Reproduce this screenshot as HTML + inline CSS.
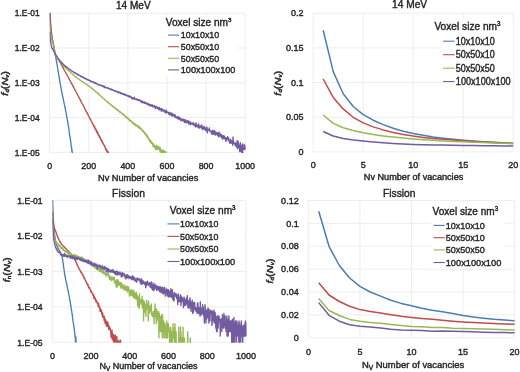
<!DOCTYPE html>
<html><head><meta charset="utf-8"><title>Vacancy distributions</title>
<style>html,body{margin:0;padding:0;background:#fff;}body{width:520px;height:372px;overflow:hidden;position:relative;}</style>
</head><body>
<svg width="520" height="372" viewBox="0 0 520 372" style="position:absolute;left:0;top:0;filter:blur(0.3px);font-family:'Liberation Sans', Arial, sans-serif">
<rect width="520" height="372" fill="#fff"/>
<style>text{stroke:#262626;stroke-width:0.4px;paint-order:stroke;}</style>
<clipPath id="cTL"><rect x="49.6" y="12.7" width="196.6" height="140.2"/></clipPath>
<line x1="49.6" x2="245.2" y1="13.20" y2="13.20" stroke="#EDEDED" stroke-width="1"/>
<line x1="49.6" x2="245.2" y1="48.00" y2="48.00" stroke="#EDEDED" stroke-width="1"/>
<line x1="49.6" x2="245.2" y1="82.80" y2="82.80" stroke="#EDEDED" stroke-width="1"/>
<line x1="49.6" x2="245.2" y1="117.60" y2="117.60" stroke="#EDEDED" stroke-width="1"/>
<line x1="49.6" x2="245.2" y1="152.40" y2="152.40" stroke="#EDEDED" stroke-width="1"/>
<line x1="49.60" x2="49.60" y1="13.2" y2="152.39999999999998" stroke="#EDEDED" stroke-width="1"/>
<line x1="88.72" x2="88.72" y1="13.2" y2="152.39999999999998" stroke="#EDEDED" stroke-width="1"/>
<line x1="127.84" x2="127.84" y1="13.2" y2="152.39999999999998" stroke="#EDEDED" stroke-width="1"/>
<line x1="166.96" x2="166.96" y1="13.2" y2="152.39999999999998" stroke="#EDEDED" stroke-width="1"/>
<line x1="206.08" x2="206.08" y1="13.2" y2="152.39999999999998" stroke="#EDEDED" stroke-width="1"/>
<line x1="245.20" x2="245.20" y1="13.2" y2="152.39999999999998" stroke="#EDEDED" stroke-width="1"/>
<polyline points="49.80,4.71 49.99,10.98 50.19,15.88 50.38,19.60 50.58,22.57 50.77,25.03 50.97,27.29 51.16,29.49 51.36,31.47 51.56,33.25 51.75,34.81 51.95,36.34 52.14,37.71 52.34,38.98 52.53,40.10 52.73,41.17 52.93,42.17 53.12,43.09 53.32,43.89 53.51,44.57 53.71,45.62 53.90,46.66 54.10,47.76 54.29,48.79 54.49,49.90 54.69,50.98 54.88,52.04 55.08,53.11 55.27,54.25 55.47,55.31 55.66,56.43 55.86,57.54 56.05,58.69 56.25,59.81 56.45,61.00 56.64,62.10 56.84,63.34 57.03,64.48 57.23,65.64 57.42,66.93 57.62,68.03 57.82,69.24 58.01,70.52 58.21,71.62 58.40,72.71 58.60,73.93 58.79,75.09 58.99,76.31 59.18,77.49 59.38,78.40 59.58,79.74 59.77,80.82 59.97,82.17 60.16,83.17 60.36,84.38 60.55,85.38 60.75,86.34 60.94,87.52 61.14,88.62 61.34,89.64 61.53,90.70 61.73,92.02 61.92,92.66 62.12,93.45 62.31,94.55 62.51,95.59 62.71,96.37 62.90,97.59 63.10,98.22 63.29,99.33 63.49,100.08 63.68,101.04 63.88,102.23 64.07,103.17 64.27,103.54 64.47,104.93 64.66,105.36 64.86,106.71 65.05,107.52 65.25,108.66 65.44,109.64 65.64,110.97 65.83,111.53 66.03,112.72 66.23,113.43 66.42,114.49 66.62,115.75 66.81,116.94 67.01,118.02 67.20,118.55 67.40,119.91 67.60,121.07 67.79,122.36 67.99,123.40 68.18,125.48 68.38,125.72 68.57,127.03 68.77,127.95 68.96,129.35 69.16,130.51 69.36,134.04 69.55,134.26 69.75,135.76 69.94,137.22 70.14,136.97 70.33,138.84 70.53,140.58 70.72,142.03 70.92,142.75 71.12,145.23 71.31,147.31 71.51,146.96 71.70,148.05 71.90,151.47 72.09,150.55 72.29,152.81 72.49,154.05 72.68,155.22" fill="none" stroke="#4A7CBA" stroke-width="1.35" stroke-linejoin="round" stroke-linecap="butt" clip-path="url(#cTL)"/>
<polyline points="49.80,12.45 49.99,16.84 50.19,20.42 50.38,23.71 50.58,26.38 50.77,28.62 50.97,30.55 51.16,32.38 51.36,34.01 51.56,35.56 51.75,36.85 51.95,38.05 52.14,38.98 52.34,39.84 52.53,40.76 52.73,41.73 52.93,42.62 53.12,43.57 53.32,44.40 53.51,45.10 53.71,46.70 53.90,48.28 54.10,49.75 54.29,51.09 54.49,52.36 54.69,53.32 54.88,54.15 55.08,54.67 55.27,55.08 55.47,55.45 55.66,55.79 55.86,56.08 56.05,56.28 56.25,56.60 56.45,56.70 56.64,56.96 56.84,57.22 57.03,57.37 57.23,57.62 57.42,57.86 57.62,58.16 57.82,58.56 58.01,58.80 58.21,59.09 58.40,59.44 58.60,59.79 58.79,60.17 58.99,60.49 59.18,60.83 59.38,61.21 59.58,61.56 59.77,61.90 59.97,62.28 60.16,62.67 60.36,62.87 60.55,63.35 60.75,63.69 60.94,64.04 61.14,64.33 61.34,64.71 61.53,65.05 61.73,65.44 61.92,65.74 62.12,66.03 62.31,66.50 62.51,66.77 62.71,67.12 62.90,67.51 63.10,67.75 63.29,68.21 63.49,68.52 63.68,68.85 63.88,69.23 64.07,69.62 64.27,69.98 64.47,70.38 64.66,70.68 64.86,70.97 65.05,71.36 65.25,71.68 65.44,72.05 65.64,72.39 65.83,72.78 66.03,73.20 66.23,73.60 66.42,73.91 66.62,74.16 66.81,74.66 67.01,75.07 67.20,75.16 67.40,75.62 67.60,76.04 67.79,76.41 67.99,76.76 68.18,77.16 68.38,77.39 68.57,77.86 68.77,78.31 68.96,78.60 69.16,78.79 69.36,79.38 69.55,79.74 69.75,79.84 69.94,80.45 70.14,80.70 70.33,81.16 70.53,81.47 70.72,81.84 70.92,82.35 71.12,82.63 71.31,83.01 71.51,83.18 71.70,83.70 71.90,84.03 72.09,84.40 72.29,84.91 72.49,85.12 72.68,85.44 72.88,85.99 73.07,86.27 73.27,86.52 73.46,87.00 73.66,87.13 73.85,87.72 74.05,88.01 74.25,88.46 74.44,88.66 74.64,89.19 74.83,89.47 75.03,89.92 75.22,90.19 75.42,90.64 75.61,90.98 75.81,91.46 76.01,91.85 76.20,92.13 76.40,92.52 76.59,92.72 76.79,93.23 76.98,93.57 77.18,93.80 77.38,94.39 77.57,94.51 77.77,95.01 77.96,95.31 78.16,95.81 78.35,96.19 78.55,96.56 78.74,96.81 78.94,97.47 79.14,97.72 79.33,97.96 79.53,98.47 79.72,98.62 79.92,99.42 80.11,99.61 80.31,99.68 80.50,100.22 80.70,100.79 80.90,100.90 81.09,101.58 81.29,101.83 81.48,102.48 81.68,102.54 81.87,102.95 82.07,103.33 82.27,103.64 82.46,103.85 82.66,104.41 82.85,104.62 83.05,104.96 83.24,105.39 83.44,105.78 83.63,106.40 83.83,106.69 84.03,106.92 84.22,107.22 84.42,107.68 84.61,108.71 84.81,108.66 85.00,109.11 85.20,109.36 85.39,109.62 85.59,110.18 85.79,110.24 85.98,111.19 86.18,111.09 86.37,111.56 86.57,111.88 86.76,112.44 86.96,112.44 87.16,113.25 87.35,113.37 87.55,113.31 87.74,114.21 87.94,114.80 88.13,114.69 88.33,115.15 88.52,115.87 88.72,115.88 88.92,116.45 89.11,117.02 89.31,117.23 89.50,117.86 89.70,118.19 89.89,118.62 90.09,118.94 90.28,118.72 90.48,119.90 90.68,119.80 90.87,119.91 91.07,120.56 91.26,120.97 91.46,121.66 91.65,121.91 91.85,121.78 92.05,122.74 92.24,123.00 92.44,123.32 92.63,123.17 92.83,123.99 93.02,124.99 93.22,124.54 93.41,125.31 93.61,125.55 93.81,126.43 94.00,126.76 94.20,126.02 94.39,127.27 94.59,127.39 94.78,126.74 94.98,128.29 95.17,129.18 95.37,128.62 95.57,128.77 95.76,129.80 95.96,129.23 96.15,130.53 96.35,129.86 96.54,131.83 96.74,131.27 96.94,131.77 97.13,131.49 97.33,133.05 97.52,133.39 97.72,131.90 97.91,134.02 98.11,134.87 98.30,133.96 98.50,134.73 98.70,134.96 98.89,135.78 99.09,136.31 99.28,135.58 99.48,136.95 99.67,137.13 99.87,137.73 100.06,138.11 100.26,137.11 100.46,138.08 100.65,138.59 100.85,139.75 101.04,140.26 101.24,140.21 101.43,139.99 101.63,139.68 101.83,141.60 102.02,140.74 102.22,142.28 102.41,141.67 102.61,142.13 102.80,143.16 103.00,143.69 103.19,143.57 103.39,144.17 103.59,144.53 103.78,144.89 103.98,144.65 104.17,145.27 104.37,146.01 104.56,145.71 104.76,145.71 104.95,146.54 105.15,147.90 105.35,148.32 105.54,148.95 105.74,149.86 105.93,149.23 106.13,149.94 106.32,149.19 106.52,149.94 106.72,150.42 106.91,151.52 107.11,150.82 107.30,152.35 107.50,151.14 107.69,151.01 107.89,152.71 108.08,151.71 108.28,153.23 108.48,153.66 108.67,152.86 108.87,155.40" fill="none" stroke="#BF4C49" stroke-width="1.35" stroke-linejoin="round" stroke-linecap="butt" clip-path="url(#cTL)"/>
<polyline points="49.80,22.74 49.99,26.64 50.19,29.17 50.38,30.97 50.58,32.69 50.77,34.10 50.97,35.37 51.16,36.54 51.36,37.60 51.56,38.62 51.75,39.46 51.95,40.23 52.14,41.03 52.34,41.73 52.53,42.32 52.73,42.93 52.93,43.57 53.12,44.06 53.32,44.57 53.51,45.10 53.71,46.22 53.90,47.25 54.10,48.27 54.29,49.24 54.49,50.26 54.69,51.31 54.88,52.13 55.08,52.99 55.27,53.80 55.47,54.50 55.66,55.05 55.86,55.62 56.05,56.13 56.25,56.49 56.45,56.86 56.64,57.33 56.84,57.66 57.03,57.91 57.23,58.31 57.42,58.56 57.62,58.87 57.82,59.09 58.01,59.41 58.21,59.65 58.40,59.85 58.60,60.04 58.79,60.38 58.99,60.54 59.18,60.80 59.38,60.94 59.58,61.24 59.77,61.39 59.97,61.75 60.16,61.96 60.36,62.18 60.55,62.44 60.75,62.67 60.94,62.81 61.14,63.06 61.34,63.29 61.53,63.62 61.73,63.65 61.92,63.97 62.12,64.27 62.31,64.37 62.51,64.72 62.71,64.83 62.90,64.96 63.10,65.33 63.29,65.53 63.49,65.72 63.68,65.86 63.88,66.01 64.07,66.26 64.27,66.59 64.47,66.60 64.66,66.89 64.86,67.04 65.05,67.31 65.25,67.50 65.44,67.61 65.64,67.89 65.83,68.29 66.03,68.25 66.23,68.34 66.42,68.62 66.62,68.91 66.81,68.99 67.01,69.09 67.20,69.28 67.40,69.54 67.60,69.70 67.79,69.98 67.99,70.03 68.18,70.42 68.38,70.43 68.57,70.59 68.77,70.73 68.96,70.95 69.16,71.24 69.36,71.38 69.55,71.50 69.75,71.68 69.94,71.90 70.14,72.11 70.33,72.14 70.53,72.39 70.72,72.45 70.92,72.76 71.12,72.98 71.31,73.16 71.51,73.18 71.70,73.43 71.90,73.73 72.09,73.82 72.29,73.92 72.49,74.14 72.68,74.35 72.88,74.47 73.07,74.71 73.27,74.89 73.46,74.96 73.66,75.19 73.85,75.40 74.05,75.40 74.25,75.62 74.44,75.91 74.64,76.01 74.83,76.15 75.03,76.29 75.22,76.32 75.42,76.60 75.61,76.76 75.81,76.79 76.01,76.78 76.20,77.16 76.40,77.44 76.59,77.33 76.79,77.52 76.98,77.86 77.18,77.86 77.38,78.19 77.57,78.38 77.77,78.40 77.96,78.69 78.16,78.75 78.35,78.92 78.55,78.93 78.74,79.21 78.94,79.37 79.14,79.61 79.33,79.61 79.53,79.62 79.72,79.89 79.92,79.90 80.11,80.22 80.31,80.20 80.50,80.50 80.70,80.52 80.90,80.56 81.09,80.84 81.29,80.91 81.48,81.04 81.68,81.17 81.87,81.44 82.07,81.46 82.27,81.76 82.46,81.79 82.66,82.05 82.85,81.92 83.05,82.20 83.24,82.26 83.44,82.43 83.63,82.57 83.83,82.58 84.03,82.65 84.22,83.03 84.42,83.01 84.61,83.16 84.81,83.21 85.00,83.48 85.20,83.64 85.39,83.60 85.59,83.81 85.79,83.94 85.98,83.94 86.18,84.23 86.37,84.30 86.57,84.19 86.76,84.79 86.96,84.64 87.16,84.86 87.35,85.23 87.55,85.24 87.74,85.46 87.94,85.59 88.13,85.55 88.33,85.66 88.52,85.83 88.72,85.70 88.92,86.20 89.11,86.25 89.31,86.45 89.50,86.59 89.70,86.75 89.89,86.95 90.09,87.02 90.28,87.09 90.48,87.27 90.68,87.23 90.87,87.50 91.07,87.81 91.26,87.87 91.46,87.91 91.65,88.23 91.85,88.61 92.05,88.73 92.24,88.76 92.44,88.88 92.63,89.01 92.83,89.37 93.02,89.03 93.22,89.20 93.41,89.60 93.61,90.03 93.81,90.00 94.00,90.22 94.20,90.37 94.39,90.54 94.59,90.63 94.78,90.81 94.98,91.16 95.17,91.15 95.37,91.20 95.57,91.50 95.76,91.63 95.96,92.02 96.15,91.95 96.35,92.02 96.54,92.18 96.74,92.45 96.94,92.74 97.13,92.74 97.33,92.81 97.52,93.21 97.72,93.27 97.91,93.47 98.11,93.26 98.30,93.90 98.50,93.99 98.70,94.12 98.89,94.04 99.09,94.30 99.28,94.42 99.48,94.94 99.67,94.90 99.87,95.50 100.06,95.50 100.26,95.56 100.46,95.86 100.65,95.93 100.85,96.08 101.04,96.11 101.24,96.49 101.43,96.71 101.63,96.85 101.83,96.97 102.02,96.92 102.22,97.60 102.41,97.63 102.61,97.69 102.80,98.07 103.00,98.08 103.19,98.23 103.39,98.50 103.59,98.58 103.78,98.56 103.98,99.08 104.17,98.94 104.37,99.24 104.56,99.37 104.76,99.77 104.95,99.67 105.15,100.19 105.35,100.30 105.54,100.27 105.74,100.69 105.93,100.61 106.13,101.26 106.32,101.23 106.52,101.20 106.72,101.43 106.91,101.66 107.11,101.84 107.30,101.76 107.50,101.73 107.69,102.08 107.89,102.03 108.08,102.83 108.28,102.84 108.48,103.08 108.67,102.79 108.87,103.02 109.06,103.39 109.26,103.79 109.45,103.91 109.65,103.70 109.84,103.82 110.04,103.96 110.24,104.31 110.43,104.37 110.63,104.99 110.82,105.17 111.02,105.10 111.21,104.88 111.41,104.85 111.61,105.26 111.80,105.56 112.00,105.77 112.19,106.02 112.39,106.14 112.58,106.00 112.78,106.43 112.97,106.29 113.17,106.20 113.37,106.83 113.56,107.08 113.76,106.52 113.95,107.25 114.15,107.74 114.34,107.31 114.54,107.80 114.73,107.60 114.93,108.18 115.13,108.47 115.32,108.01 115.52,108.38 115.71,108.35 115.91,108.18 116.10,109.25 116.30,108.96 116.50,109.27 116.69,109.50 116.89,109.78 117.08,109.84 117.28,109.41 117.47,110.24 117.67,109.96 117.86,110.23 118.06,110.51 118.26,110.29 118.45,110.68 118.65,111.01 118.84,111.16 119.04,111.03 119.23,111.15 119.43,111.82 119.62,111.73 119.82,112.03 120.02,111.60 120.21,112.52 120.41,112.03 120.60,112.38 120.80,112.48 120.99,112.35 121.19,113.16 121.39,113.19 121.58,112.95 121.78,113.27 121.97,113.88 122.17,113.18 122.36,113.86 122.56,113.94 122.75,114.43 122.95,114.23 123.15,114.00 123.34,115.05 123.54,114.78 123.73,114.97 123.93,115.26 124.12,114.76 124.32,115.35 124.51,115.83 124.71,115.78 124.91,115.57 125.10,116.33 125.30,116.51 125.49,116.79 125.69,116.44 125.88,117.48 126.08,116.63 126.28,117.10 126.47,117.41 126.67,117.12 126.86,117.52 127.06,117.95 127.25,117.34 127.45,118.46 127.64,118.24 127.84,118.58 128.04,118.21 128.23,118.92 128.43,119.08 128.62,119.42 128.82,119.17 129.01,119.08 129.21,119.50 129.40,120.55 129.60,119.95 129.80,120.01 129.99,120.00 130.19,120.22 130.38,121.01 130.58,120.99 130.77,120.69 130.97,120.94 131.17,121.27 131.36,120.76 131.56,121.77 131.75,122.14 131.95,121.92 132.14,122.86 132.34,122.13 132.53,123.38 132.73,122.79 132.93,122.49 133.12,122.32 133.32,123.25 133.51,123.51 133.71,123.75 133.90,123.86 134.10,123.47 134.29,124.86 134.49,124.40 134.69,124.52 134.88,124.76 135.08,123.93 135.27,124.58 135.47,125.57 135.66,124.42 135.86,124.81 136.06,124.70 136.25,125.35 136.45,125.06 136.64,125.78 136.84,125.63 137.03,125.82 137.23,125.69 137.42,126.22 137.62,126.43 137.82,125.47 138.01,125.59 138.21,127.51 138.40,127.12 138.60,127.12 138.79,126.95 138.99,127.97 139.18,127.44 139.38,126.97 139.58,127.75 139.77,127.99 139.97,128.27 140.16,127.56 140.36,127.43 140.55,128.63 140.75,128.96 140.95,129.62 141.14,129.48 141.34,128.79 141.53,129.40 141.73,129.75 141.92,129.91 142.12,130.46 142.31,130.57 142.51,131.00 142.71,131.49 142.90,131.19 143.10,130.44 143.29,130.91 143.49,131.79 143.68,131.09 143.88,131.77 144.07,132.01 144.27,132.63 144.47,133.38 144.66,132.38 144.86,133.29 145.05,134.17 145.25,133.77 145.44,133.23 145.64,134.45 145.84,134.13 146.03,134.36 146.23,135.72 146.42,135.60 146.62,134.63 146.81,134.75 147.01,137.08 147.20,135.75 147.40,135.90 147.60,136.26 147.79,137.61 147.99,137.03 148.18,137.50 148.38,139.30 148.57,137.56 148.77,137.84 148.96,138.89 149.16,139.42 149.36,140.11 149.55,140.18 149.75,141.59 149.94,139.84 150.14,141.81 150.33,141.85 150.53,140.14 150.73,141.01 150.92,141.01 151.12,142.54 151.31,143.43 151.51,141.85 151.70,143.06 151.90,142.04 152.09,143.02 152.29,143.23 152.49,142.94 152.68,144.51 152.88,145.30 153.07,145.53 153.27,146.58 153.46,143.99 153.66,145.44 153.85,144.83 154.05,145.11 154.25,145.20 154.44,147.37 154.64,145.63 154.83,146.84 155.03,146.27 155.22,148.43 155.42,147.10 155.62,149.64 155.81,149.46 156.01,146.42 156.20,145.78 156.40,147.75 156.59,145.30 156.79,147.26 156.98,148.03 157.18,149.27 157.38,148.73 157.57,146.32 157.77,148.61 157.96,147.98 158.16,149.15 158.35,148.79 158.55,148.91 158.74,147.48 158.94,146.63 159.14,149.64 159.33,149.71 159.53,150.29 159.72,149.96 159.92,149.64 160.11,152.03 160.31,147.64 160.51,151.81 160.70,150.62 160.90,149.83 161.09,151.31 161.29,150.49 161.48,152.48 161.68,150.42 161.87,151.31 162.07,151.81 162.27,153.10 162.46,150.75 162.66,150.89 162.85,150.03 163.05,151.73 163.24,153.02 163.44,152.25 163.63,150.16 163.83,151.95 164.03,152.03 164.22,153.58 164.42,151.73 164.61,151.24 164.81,153.42 165.00,153.66 165.20,153.34 165.40,154.16 165.59,152.63 165.79,154.08 165.98,151.66 166.18,153.42 166.37,154.25 166.57,154.77 166.76,155.40 166.96,154.77 167.16,154.33" fill="none" stroke="#97B955" stroke-width="1.35" stroke-linejoin="round" stroke-linecap="butt" clip-path="url(#cTL)"/>
<polyline points="49.80,31.69 49.99,35.46 50.19,37.93 50.38,39.84 50.58,41.31 50.77,42.62 50.97,43.89 51.16,44.92 51.36,45.84 51.56,46.82 51.75,47.43 51.95,47.86 52.14,48.30 52.34,48.75 52.53,48.98 52.73,49.45 52.93,49.69 53.12,49.94 53.32,50.19 53.51,50.44 53.71,51.01 53.90,51.37 54.10,51.51 54.29,51.90 54.49,52.37 54.69,52.79 54.88,53.07 55.08,53.34 55.27,53.73 55.47,54.08 55.66,54.45 55.86,54.76 56.05,55.06 56.25,55.50 56.45,55.72 56.64,55.99 56.84,56.41 57.03,56.63 57.23,57.06 57.42,57.07 57.62,57.69 57.82,57.73 58.01,58.06 58.21,58.32 58.40,58.79 58.60,59.16 58.79,59.34 58.99,59.59 59.18,60.00 59.38,60.08 59.58,60.29 59.77,60.54 59.97,60.71 60.16,60.81 60.36,61.32 60.55,61.35 60.75,61.56 60.94,61.87 61.14,62.05 61.34,62.17 61.53,62.55 61.73,62.79 61.92,62.65 62.12,62.98 62.31,63.28 62.51,63.42 62.71,63.68 62.90,63.82 63.10,64.03 63.29,64.27 63.49,64.44 63.68,64.82 63.88,65.02 64.07,65.15 64.27,65.24 64.47,65.48 64.66,65.47 64.86,65.77 65.05,65.82 65.25,66.10 65.44,66.30 65.64,66.17 65.83,66.57 66.03,66.99 66.23,66.94 66.42,66.83 66.62,67.02 66.81,67.28 67.01,67.50 67.20,67.53 67.40,67.90 67.60,67.88 67.79,67.94 67.99,67.91 68.18,68.55 68.38,68.56 68.57,68.64 68.77,68.93 68.96,69.00 69.16,69.20 69.36,69.36 69.55,69.46 69.75,69.61 69.94,69.66 70.14,69.89 70.33,69.73 70.53,70.10 70.72,70.40 70.92,70.74 71.12,70.59 71.31,70.49 71.51,70.86 71.70,70.84 71.90,70.90 72.09,71.11 72.29,71.18 72.49,71.35 72.68,71.42 72.88,71.39 73.07,71.72 73.27,71.81 73.46,71.81 73.66,72.27 73.85,72.45 74.05,72.41 74.25,72.76 74.44,72.46 74.64,72.65 74.83,72.78 75.03,73.09 75.22,72.63 75.42,73.05 75.61,73.35 75.81,73.20 76.01,73.41 76.20,73.80 76.40,73.78 76.59,73.82 76.79,73.86 76.98,74.39 77.18,73.83 77.38,74.44 77.57,74.38 77.77,74.47 77.96,74.78 78.16,74.27 78.35,74.88 78.55,75.08 78.74,75.22 78.94,75.26 79.14,75.38 79.33,75.47 79.53,75.33 79.72,75.61 79.92,75.72 80.11,75.85 80.31,76.08 80.50,76.06 80.70,76.35 80.90,76.68 81.09,76.06 81.29,76.58 81.48,76.29 81.68,76.20 81.87,76.68 82.07,76.79 82.27,76.96 82.46,76.95 82.66,76.61 82.85,77.47 83.05,77.33 83.24,77.37 83.44,77.32 83.63,77.56 83.83,77.59 84.03,78.13 84.22,77.90 84.42,77.62 84.61,78.37 84.81,78.48 85.00,78.54 85.20,78.51 85.39,78.49 85.59,78.64 85.79,79.01 85.98,78.63 86.18,79.13 86.37,78.87 86.57,79.26 86.76,79.45 86.96,79.17 87.16,79.39 87.35,79.56 87.55,79.91 87.74,79.81 87.94,79.99 88.13,79.79 88.33,80.18 88.52,80.24 88.72,80.29 88.92,79.93 89.11,79.88 89.31,80.39 89.50,80.45 89.70,80.61 89.89,80.78 90.09,80.49 90.28,80.87 90.48,81.62 90.68,81.50 90.87,80.95 91.07,81.08 91.26,81.65 91.46,81.68 91.65,81.45 91.85,81.48 92.05,81.89 92.24,81.81 92.44,81.90 92.63,82.07 92.83,82.24 93.02,82.05 93.22,81.76 93.41,82.57 93.61,82.23 93.81,82.43 94.00,82.72 94.20,82.78 94.39,83.11 94.59,82.44 94.78,83.00 94.98,82.50 95.17,83.43 95.37,83.21 95.57,83.42 95.76,83.27 95.96,83.39 96.15,83.47 96.35,83.24 96.54,83.41 96.74,83.89 96.94,83.86 97.13,83.96 97.33,84.25 97.52,84.56 97.72,84.28 97.91,84.45 98.11,84.40 98.30,84.60 98.50,84.42 98.70,84.43 98.89,85.10 99.09,84.77 99.28,84.84 99.48,84.76 99.67,85.14 99.87,84.92 100.06,84.69 100.26,85.19 100.46,85.46 100.65,85.32 100.85,85.27 101.04,85.37 101.24,85.50 101.43,85.62 101.63,85.58 101.83,85.82 102.02,86.22 102.22,85.71 102.41,85.55 102.61,86.36 102.80,85.89 103.00,85.98 103.19,86.35 103.39,86.71 103.59,86.80 103.78,86.13 103.98,87.13 104.17,86.69 104.37,86.41 104.56,87.59 104.76,86.81 104.95,87.29 105.15,87.57 105.35,87.13 105.54,87.12 105.74,87.39 105.93,87.59 106.13,87.69 106.32,87.53 106.52,87.62 106.72,87.39 106.91,87.75 107.11,88.07 107.30,87.83 107.50,87.98 107.69,88.20 107.89,88.12 108.08,88.14 108.28,87.85 108.48,88.39 108.67,88.55 108.87,88.46 109.06,88.56 109.26,88.90 109.45,88.75 109.65,88.95 109.84,88.80 110.04,88.73 110.24,88.88 110.43,89.15 110.63,88.87 110.82,89.92 111.02,89.92 111.21,89.13 111.41,89.15 111.61,89.81 111.80,89.81 112.00,89.94 112.19,89.87 112.39,89.60 112.58,90.10 112.78,89.35 112.97,90.28 113.17,90.27 113.37,90.52 113.56,90.51 113.76,90.48 113.95,90.51 114.15,90.68 114.34,90.92 114.54,90.63 114.73,90.81 114.93,91.23 115.13,90.66 115.32,91.12 115.52,91.01 115.71,91.36 115.91,90.97 116.10,91.24 116.30,91.32 116.50,91.77 116.69,91.58 116.89,91.41 117.08,91.62 117.28,91.62 117.47,91.77 117.67,92.42 117.86,91.86 118.06,91.97 118.26,92.42 118.45,92.93 118.65,91.69 118.84,92.19 119.04,92.40 119.23,92.65 119.43,92.45 119.62,92.77 119.82,92.87 120.02,92.97 120.21,92.52 120.41,92.73 120.60,93.35 120.80,93.67 120.99,93.14 121.19,93.67 121.39,93.01 121.58,93.47 121.78,93.50 121.97,93.51 122.17,93.40 122.36,93.64 122.56,94.27 122.75,94.25 122.95,93.55 123.15,93.92 123.34,94.05 123.54,93.90 123.73,94.32 123.93,94.79 124.12,94.22 124.32,93.90 124.51,94.41 124.71,94.59 124.91,95.00 125.10,94.59 125.30,94.87 125.49,95.30 125.69,94.49 125.88,95.09 126.08,94.98 126.28,94.94 126.47,95.24 126.67,95.35 126.86,95.63 127.06,95.79 127.25,96.05 127.45,95.32 127.64,95.61 127.84,95.78 128.04,96.20 128.23,95.88 128.43,96.26 128.62,96.15 128.82,96.86 129.01,96.20 129.21,96.93 129.40,96.27 129.60,95.74 129.80,97.17 129.99,96.63 130.19,97.16 130.38,97.11 130.58,97.18 130.77,96.80 130.97,96.73 131.17,97.49 131.36,97.16 131.56,97.26 131.75,97.79 131.95,98.75 132.14,97.86 132.34,97.84 132.53,98.28 132.73,98.93 132.93,97.80 133.12,97.90 133.32,98.52 133.51,97.90 133.71,98.88 133.90,98.37 134.10,98.35 134.29,97.25 134.49,98.82 134.69,99.00 134.88,98.88 135.08,99.02 135.27,99.34 135.47,99.33 135.66,99.28 135.86,99.09 136.06,98.69 136.25,99.37 136.45,99.81 136.64,99.44 136.84,99.65 137.03,99.35 137.23,99.86 137.42,99.27 137.62,99.96 137.82,99.89 138.01,99.34 138.21,99.75 138.40,99.76 138.60,99.77 138.79,100.62 138.99,99.91 139.18,99.68 139.38,99.73 139.58,99.73 139.77,99.81 139.97,100.70 140.16,100.62 140.36,101.20 140.55,100.78 140.75,101.40 140.95,101.60 141.14,101.02 141.34,101.65 141.53,102.57 141.73,101.02 141.92,101.59 142.12,102.04 142.31,101.26 142.51,102.00 142.71,102.66 142.90,101.86 143.10,102.27 143.29,102.86 143.49,102.03 143.68,102.00 143.88,102.11 144.07,102.30 144.27,102.99 144.47,103.20 144.66,101.85 144.86,102.64 145.05,102.80 145.25,102.79 145.44,102.73 145.64,102.99 145.84,102.74 146.03,103.44 146.23,103.06 146.42,102.91 146.62,103.28 146.81,103.12 147.01,104.37 147.20,104.15 147.40,104.45 147.60,103.81 147.79,103.50 147.99,104.29 148.18,104.51 148.38,104.74 148.57,104.53 148.77,103.96 148.96,104.04 149.16,104.59 149.36,105.74 149.55,104.62 149.75,104.50 149.94,104.75 150.14,105.60 150.33,105.45 150.53,104.64 150.73,105.09 150.92,105.04 151.12,105.62 151.31,105.34 151.51,105.89 151.70,106.35 151.90,105.53 152.09,104.61 152.29,106.21 152.49,105.45 152.68,106.48 152.88,106.77 153.07,106.79 153.27,106.42 153.46,105.86 153.66,105.77 153.85,106.21 154.05,106.48 154.25,106.42 154.44,105.75 154.64,106.94 154.83,107.39 155.03,106.75 155.22,106.55 155.42,108.59 155.62,107.11 155.81,107.49 156.01,106.92 156.20,107.39 156.40,107.62 156.59,107.78 156.79,106.31 156.98,107.78 157.18,107.90 157.38,108.40 157.57,108.08 157.77,107.70 157.96,108.34 158.16,108.76 158.35,109.32 158.55,107.66 158.74,109.32 158.94,108.16 159.14,109.10 159.33,107.45 159.53,109.87 159.72,109.69 159.92,109.36 160.11,108.76 160.31,109.43 160.51,109.65 160.70,109.74 160.90,108.38 161.09,108.82 161.29,111.27 161.48,109.36 161.68,110.19 161.87,108.78 162.07,109.62 162.27,110.47 162.46,109.43 162.66,110.24 162.85,109.76 163.05,109.99 163.24,110.88 163.44,110.05 163.63,110.33 163.83,110.08 164.03,111.27 164.22,111.93 164.42,111.27 164.61,110.78 164.81,110.54 165.00,111.50 165.20,111.20 165.40,112.84 165.59,112.25 165.79,111.32 165.98,110.54 166.18,112.17 166.37,110.24 166.57,111.83 166.76,112.90 166.96,111.85 167.16,112.22 167.35,112.43 167.55,112.38 167.74,111.96 167.94,112.04 168.13,112.57 168.33,112.68 168.52,113.78 168.72,113.43 168.92,113.63 169.11,112.41 169.31,114.72 169.50,112.33 169.70,113.18 169.89,113.26 170.09,112.62 170.29,114.20 170.48,113.38 170.68,114.66 170.87,113.58 171.07,114.69 171.26,114.72 171.46,115.79 171.65,114.38 171.85,112.84 172.05,115.10 172.24,113.81 172.44,115.92 172.63,116.23 172.83,114.59 173.02,115.23 173.22,115.10 173.41,114.75 173.61,115.13 173.81,114.11 174.00,115.07 174.20,114.84 174.39,116.02 174.59,117.26 174.78,115.26 174.98,116.06 175.18,114.81 175.37,115.99 175.57,117.08 175.76,116.33 175.96,116.47 176.15,116.93 176.35,118.06 176.54,117.12 176.74,117.26 176.94,117.87 177.13,117.75 177.33,117.19 177.52,116.68 177.72,118.22 177.91,117.68 178.11,117.23 178.30,116.86 178.50,119.70 178.70,118.06 178.89,117.41 179.09,117.15 179.28,118.70 179.48,118.38 179.67,118.38 179.87,118.94 180.07,118.02 180.26,118.34 180.46,118.30 180.65,119.88 180.85,119.84 181.04,120.83 181.24,120.46 181.43,119.07 181.63,119.28 181.83,118.98 182.02,119.62 182.22,120.46 182.41,120.55 182.61,119.79 182.80,120.24 183.00,120.06 183.19,119.11 183.39,120.24 183.59,119.53 183.78,121.11 183.98,120.51 184.17,119.79 184.37,122.36 184.56,120.15 184.76,119.88 184.96,120.24 185.15,122.20 185.35,119.75 185.54,121.26 185.74,121.65 185.93,121.07 186.13,120.97 186.32,122.94 186.52,121.40 186.72,120.83 186.91,121.95 187.11,122.00 187.30,121.11 187.50,120.93 187.69,122.30 187.89,121.55 188.08,120.51 188.28,121.26 188.48,123.99 188.67,123.43 188.87,121.95 189.06,122.94 189.26,123.10 189.45,122.15 189.65,123.37 189.85,121.55 190.04,123.21 190.24,124.70 190.43,122.20 190.63,124.11 190.82,123.71 191.02,124.46 191.21,122.94 191.41,123.21 191.61,123.60 191.80,123.37 192.00,123.43 192.19,123.60 192.39,123.48 192.58,123.94 192.78,123.82 192.97,124.70 193.17,122.46 193.37,124.89 193.56,124.11 193.76,124.29 193.95,123.99 194.15,123.82 194.34,125.26 194.54,124.82 194.74,124.64 194.93,125.83 195.13,124.64 195.32,125.07 195.52,123.99 195.71,127.05 195.91,125.19 196.10,122.94 196.30,126.57 196.50,126.50 196.69,125.57 196.89,125.01 197.08,125.07 197.28,125.38 197.47,125.51 197.67,126.10 197.86,127.12 198.06,126.43 198.26,126.43 198.45,126.77 198.65,123.94 198.84,125.45 199.04,128.08 199.23,126.10 199.43,127.05 199.63,127.05 199.82,127.78 200.02,126.64 200.21,126.16 200.41,126.16 200.60,126.30 200.80,125.77 200.99,125.96 201.19,126.84 201.39,128.00 201.58,125.96 201.78,124.89 201.97,127.20 202.17,127.93 202.36,128.77 202.56,127.20 202.75,128.54 202.95,129.75 203.15,128.61 203.34,127.27 203.54,126.77 203.73,128.23 203.93,129.09 204.12,127.27 204.32,126.43 204.52,129.01 204.71,127.34 204.91,127.78 205.10,128.93 205.30,129.09 205.49,128.08 205.69,130.53 205.88,130.36 206.08,130.36 206.28,128.15 206.47,128.38 206.67,130.62 206.86,126.91 207.06,128.30 207.25,132.83 207.45,130.62 207.64,130.27 207.84,130.71 208.04,129.42 208.23,129.67 208.43,130.01 208.62,130.09 208.82,130.36 209.01,130.09 209.21,129.42 209.41,127.85 209.60,129.67 209.80,131.08 209.99,131.45 210.19,131.26 210.38,130.98 210.58,131.26 210.77,131.64 210.97,132.03 211.17,132.73 211.36,131.45 211.56,132.83 211.75,130.89 211.95,134.24 212.14,130.62 212.34,130.27 212.53,131.54 212.73,132.63 212.93,134.24 213.12,132.94 213.32,131.26 213.51,134.13 213.71,130.98 213.90,132.94 214.10,132.42 214.30,132.52 214.49,130.53 214.69,134.24 214.88,133.15 215.08,133.68 215.27,133.79 215.47,131.93 215.66,135.18 215.86,133.36 216.06,133.90 216.25,134.13 216.45,133.04 216.64,132.32 216.84,132.63 217.03,133.04 217.23,132.73 217.42,133.04 217.62,135.55 217.82,134.47 218.01,134.24 218.21,133.79 218.40,133.04 218.60,136.84 218.79,136.18 218.99,132.22 219.19,135.80 219.38,134.24 219.58,136.05 219.77,133.25 219.97,134.02 220.16,134.13 220.36,135.92 220.55,135.80 220.75,136.70 220.95,136.31 221.14,134.70 221.34,134.47 221.53,136.70 221.73,137.81 221.92,136.18 222.12,135.55 222.31,137.67 222.51,136.57 222.71,139.17 222.90,136.44 223.10,138.25 223.29,138.55 223.49,135.67 223.68,135.80 223.88,137.96 224.08,136.97 224.27,137.39 224.47,136.18 224.66,138.70 224.86,137.11 225.05,138.55 225.25,139.17 225.44,138.40 225.64,138.10 225.84,140.48 226.03,141.55 226.23,137.67 226.42,139.81 226.62,137.96 226.81,138.25 227.01,139.81 227.20,139.17 227.40,139.17 227.60,136.70 227.79,137.67 227.99,138.25 228.18,137.25 228.38,138.86 228.57,139.65 228.77,140.66 228.97,140.31 229.16,141.01 229.36,141.74 229.55,143.10 229.75,142.31 229.94,141.55 230.14,139.01 230.33,139.17 230.53,141.55 230.73,143.10 230.92,140.31 231.12,142.70 231.31,141.01 231.51,143.10 231.70,141.92 231.90,140.66 232.09,141.74 232.29,142.50 232.49,142.31 232.68,145.30 232.88,141.37 233.07,136.97 233.27,143.52 233.46,141.74 233.66,141.55 233.86,143.31 234.05,142.70 234.25,143.10 234.44,143.73 234.64,143.94 234.83,143.94 235.03,143.73 235.22,145.30 235.42,142.90 235.62,144.38 235.81,146.02 236.01,143.31 236.20,146.27 236.40,144.38 236.59,143.94 236.79,147.31 236.98,143.31 237.18,140.31 237.38,143.10 237.57,143.52 237.77,148.73 237.96,144.16 238.16,141.55 238.35,143.52 238.55,146.53 238.75,146.27 238.94,147.31 239.14,145.06 239.33,146.78 239.53,147.31 239.72,151.66 239.92,150.62 240.11,145.78 240.31,142.50 240.51,146.27 240.70,146.53 240.90,151.31 241.09,150.29 241.29,149.03 241.48,146.02 241.68,152.40 241.87,150.29 242.07,149.96 242.27,143.94 242.46,149.33 242.66,152.78 242.85,147.05 243.05,148.15 243.24,149.64 243.44,148.15 243.64,148.15 243.83,147.05 244.03,144.16 244.22,145.06 244.42,147.31 244.61,149.33 244.81,145.53 245.00,148.43 245.20,149.64" fill="none" stroke="#725B9E" stroke-width="1.35" stroke-linejoin="round" stroke-linecap="butt" clip-path="url(#cTL)"/>
<clipPath id="cTR"><rect x="313.2" y="12.7" width="201.00000000000006" height="139.70000000000002"/></clipPath>
<line x1="313.2" x2="513.2" y1="13.20" y2="13.20" stroke="#EDEDED" stroke-width="1"/>
<line x1="313.2" x2="513.2" y1="47.88" y2="47.88" stroke="#EDEDED" stroke-width="1"/>
<line x1="313.2" x2="513.2" y1="82.55" y2="82.55" stroke="#EDEDED" stroke-width="1"/>
<line x1="313.2" x2="513.2" y1="117.23" y2="117.23" stroke="#EDEDED" stroke-width="1"/>
<line x1="313.2" x2="513.2" y1="151.90" y2="151.90" stroke="#EDEDED" stroke-width="1"/>
<line x1="313.20" x2="313.20" y1="13.2" y2="151.9" stroke="#EDEDED" stroke-width="1"/>
<line x1="363.20" x2="363.20" y1="13.2" y2="151.9" stroke="#EDEDED" stroke-width="1"/>
<line x1="413.20" x2="413.20" y1="13.2" y2="151.9" stroke="#EDEDED" stroke-width="1"/>
<line x1="463.20" x2="463.20" y1="13.2" y2="151.9" stroke="#EDEDED" stroke-width="1"/>
<line x1="513.20" x2="513.20" y1="13.2" y2="151.9" stroke="#EDEDED" stroke-width="1"/>
<polyline points="323.20,30.30 333.20,71.60 343.20,93.80 353.20,106.50 363.20,114.60 373.20,120.20 383.20,124.60 393.20,128.30 403.20,131.20 413.20,133.50 423.20,135.30 433.20,136.90 443.20,138.20 453.20,139.30 463.20,140.20 473.20,141.00 483.20,141.70 493.20,142.30 503.20,142.80 513.20,143.20" fill="none" stroke="#4A7CBA" stroke-width="1.5" stroke-linejoin="round" stroke-linecap="butt" clip-path="url(#cTR)"/>
<polyline points="323.20,79.00 333.20,97.40 343.20,108.90 353.20,117.30 363.20,122.90 373.20,126.90 383.20,129.90 393.20,132.40 403.20,134.40 413.20,136.10 423.20,137.40 433.20,138.50 443.20,139.30 453.20,140.00 463.20,140.70 473.20,141.40 483.20,142.00 493.20,142.60 503.20,143.10 513.20,143.50" fill="none" stroke="#BF4C49" stroke-width="1.5" stroke-linejoin="round" stroke-linecap="butt" clip-path="url(#cTR)"/>
<polyline points="323.20,115.00 333.20,123.40 343.20,127.80 353.20,130.50 363.20,132.80 373.20,134.50 383.20,135.90 393.20,137.10 403.20,138.10 413.20,139.00 423.20,139.70 433.20,140.30 443.20,140.90 453.20,141.40 463.20,141.80 473.20,142.20 483.20,142.60 493.20,142.90 503.20,143.20 513.20,143.50" fill="none" stroke="#97B955" stroke-width="1.5" stroke-linejoin="round" stroke-linecap="butt" clip-path="url(#cTR)"/>
<polyline points="323.20,131.50 333.20,136.00 343.20,138.40 353.20,140.00 363.20,141.10 373.20,142.00 383.20,142.80 393.20,143.40 403.20,143.90 413.20,144.40 423.20,144.70 433.20,144.90 443.20,145.10 453.20,145.30 463.20,145.40 473.20,145.60 483.20,145.70 493.20,145.80 503.20,145.90 513.20,146.00" fill="none" stroke="#725B9E" stroke-width="1.5" stroke-linejoin="round" stroke-linecap="butt" clip-path="url(#cTR)"/>
<clipPath id="cBL"><rect x="52.4" y="199.9" width="194.6" height="142.9"/></clipPath>
<line x1="52.4" x2="246.0" y1="200.40" y2="200.40" stroke="#EDEDED" stroke-width="1"/>
<line x1="52.4" x2="246.0" y1="235.88" y2="235.88" stroke="#EDEDED" stroke-width="1"/>
<line x1="52.4" x2="246.0" y1="271.35" y2="271.35" stroke="#EDEDED" stroke-width="1"/>
<line x1="52.4" x2="246.0" y1="306.83" y2="306.83" stroke="#EDEDED" stroke-width="1"/>
<line x1="52.4" x2="246.0" y1="342.30" y2="342.30" stroke="#EDEDED" stroke-width="1"/>
<line x1="52.40" x2="52.40" y1="200.4" y2="342.3" stroke="#EDEDED" stroke-width="1"/>
<line x1="91.12" x2="91.12" y1="200.4" y2="342.3" stroke="#EDEDED" stroke-width="1"/>
<line x1="129.84" x2="129.84" y1="200.4" y2="342.3" stroke="#EDEDED" stroke-width="1"/>
<line x1="168.56" x2="168.56" y1="200.4" y2="342.3" stroke="#EDEDED" stroke-width="1"/>
<line x1="207.28" x2="207.28" y1="200.4" y2="342.3" stroke="#EDEDED" stroke-width="1"/>
<line x1="246.00" x2="246.00" y1="200.4" y2="342.3" stroke="#EDEDED" stroke-width="1"/>
<polyline points="52.59,198.76 52.79,205.73 52.98,211.51 53.17,216.02 53.37,219.78 53.56,222.96 53.76,225.76 53.95,228.24 54.14,230.41 54.34,232.33 54.53,234.11 54.72,235.74 54.92,237.20 55.11,238.48 55.30,239.57 55.50,240.56 55.69,241.48 55.88,242.31 56.08,243.07 56.27,243.65 56.47,244.27 56.66,244.99 56.85,245.45 57.05,245.98 57.24,246.38 57.43,246.96 57.63,247.47 57.82,247.66 58.01,248.22 58.21,248.47 58.40,248.76 58.60,249.11 58.79,249.51 58.98,249.96 59.18,250.09 59.37,250.43 59.56,250.75 59.76,250.95 59.95,251.42 60.14,251.81 60.34,252.11 60.53,252.47 60.72,252.81 60.92,253.17 61.11,253.56 61.31,253.86 61.50,254.38 61.69,255.15 61.89,255.83 62.08,256.66 62.27,257.69 62.47,258.76 62.66,259.91 62.85,261.41 63.05,262.65 63.24,263.74 63.44,265.27 63.63,266.92 63.82,268.03 64.02,269.38 64.21,270.92 64.40,272.08 64.60,273.52 64.79,275.01 64.98,275.88 65.18,276.93 65.37,278.05 65.56,278.69 65.76,279.82 65.95,280.74 66.15,281.53 66.34,282.32 66.53,283.10 66.73,284.08 66.92,285.36 67.11,286.14 67.31,286.98 67.50,288.44 67.69,288.95 67.89,289.92 68.08,291.13 68.28,291.31 68.47,292.38 68.66,293.84 68.86,294.85 69.05,294.98 69.24,296.51 69.44,297.67 69.63,298.55 69.82,300.15 70.02,301.25 70.21,301.07 70.40,302.85 70.60,305.34 70.79,305.15 70.99,306.19 71.18,308.85 71.37,309.49 71.57,310.11 71.76,311.78 71.95,312.90 72.15,313.77 72.34,315.76 72.53,317.41 72.73,318.07 72.92,320.64 73.12,321.17 73.31,322.69 73.50,323.67 73.70,325.37 73.89,326.71 74.08,328.12 74.28,328.56 74.47,331.62 74.66,332.09 74.86,334.03 75.05,336.68 75.24,336.47 75.44,341.40 75.63,339.49 75.83,336.58 76.02,341.40 76.21,345.30 76.41,344.45 76.60,343.42 76.79,345.30 76.99,345.30 77.18,345.30 77.37,345.30 77.57,345.30 77.76,345.30 77.96,345.30 78.15,345.30 78.34,345.30 78.54,345.30 78.73,345.30 78.92,345.30 79.12,345.30 79.31,345.30 79.50,345.30 79.70,345.30" fill="none" stroke="#4A7CBA" stroke-width="1.35" stroke-linejoin="round" stroke-linecap="butt" clip-path="url(#cBL)"/>
<polyline points="52.59,211.59 52.79,214.88 52.98,217.75 53.17,220.24 53.37,222.49 53.56,224.24 53.76,225.44 53.95,226.43 54.14,227.27 54.34,227.97 54.53,228.59 54.72,229.11 54.92,229.55 55.11,229.95 55.30,230.34 55.50,230.75 55.69,231.23 55.88,231.75 56.08,232.29 56.27,232.85 56.47,233.50 56.66,234.00 56.85,234.67 57.05,235.10 57.24,235.53 57.43,236.30 57.63,236.67 57.82,237.22 58.01,237.61 58.21,238.02 58.40,238.64 58.60,239.04 58.79,239.44 58.98,239.82 59.18,240.26 59.37,240.59 59.56,241.12 59.76,241.47 59.95,241.77 60.14,242.01 60.34,242.03 60.53,242.35 60.72,243.01 60.92,243.00 61.11,243.51 61.31,243.59 61.50,243.96 61.69,244.18 61.89,244.59 62.08,244.67 62.27,245.15 62.47,245.35 62.66,245.50 62.85,245.52 63.05,245.88 63.24,246.22 63.44,246.21 63.63,246.54 63.82,246.65 64.02,247.05 64.21,247.02 64.40,247.04 64.60,247.64 64.79,247.76 64.98,247.89 65.18,248.05 65.37,248.25 65.56,248.30 65.76,248.44 65.95,248.57 66.15,248.89 66.34,249.00 66.53,249.30 66.73,249.40 66.92,249.60 67.11,250.01 67.31,250.25 67.50,250.17 67.69,250.36 67.89,250.83 68.08,251.02 68.28,251.23 68.47,251.12 68.66,251.46 68.86,251.83 69.05,251.56 69.24,252.01 69.44,252.35 69.63,252.39 69.82,252.81 70.02,252.77 70.21,252.84 70.40,253.22 70.60,253.47 70.79,253.77 70.99,254.22 71.18,254.16 71.37,254.60 71.57,254.31 71.76,254.81 71.95,255.16 72.15,255.26 72.34,255.62 72.53,255.58 72.73,256.10 72.92,256.56 73.12,256.97 73.31,256.58 73.50,257.21 73.70,257.61 73.89,257.79 74.08,258.01 74.28,258.35 74.47,258.57 74.66,259.27 74.86,259.76 75.05,259.93 75.24,260.26 75.44,260.33 75.63,260.86 75.83,261.60 76.02,261.95 76.21,262.29 76.41,263.04 76.60,263.11 76.79,263.73 76.99,264.71 77.18,264.37 77.37,264.82 77.57,265.54 77.76,265.99 77.96,266.51 78.15,266.73 78.34,267.08 78.54,267.99 78.73,267.86 78.92,268.14 79.12,268.72 79.31,268.93 79.50,269.80 79.70,269.64 79.89,269.83 80.08,270.10 80.28,270.90 80.47,270.99 80.67,272.15 80.86,271.67 81.05,272.29 81.25,272.36 81.44,272.90 81.63,272.43 81.83,273.80 82.02,273.75 82.21,274.39 82.41,274.34 82.60,274.86 82.80,274.87 82.99,274.71 83.18,276.15 83.38,275.35 83.57,276.74 83.76,277.53 83.96,277.11 84.15,278.58 84.34,277.99 84.54,278.51 84.73,278.68 84.92,278.86 85.12,279.52 85.31,279.98 85.51,280.28 85.70,281.16 85.89,281.07 86.09,281.28 86.28,282.26 86.47,282.17 86.67,283.23 86.86,283.45 87.05,283.53 87.25,284.28 87.44,283.62 87.64,285.05 87.83,284.10 88.02,284.41 88.22,286.38 88.41,287.03 88.60,287.55 88.80,287.66 88.99,287.05 89.18,288.27 89.38,288.04 89.57,287.59 89.76,288.20 89.96,288.98 90.15,289.54 90.35,289.52 90.54,290.21 90.73,291.69 90.93,291.99 91.12,290.80 91.31,292.02 91.51,292.65 91.70,291.41 91.89,292.68 92.09,293.30 92.28,293.27 92.48,293.53 92.67,293.40 92.86,294.89 93.06,295.43 93.25,295.77 93.44,295.07 93.64,294.64 93.83,298.42 94.02,295.80 94.22,296.65 94.41,297.60 94.60,298.20 94.80,298.65 94.99,297.77 95.19,299.92 95.38,299.02 95.57,300.22 95.77,300.53 95.96,301.92 96.15,300.94 96.35,300.17 96.54,300.42 96.73,302.03 96.93,302.55 97.12,302.20 97.32,303.64 97.51,303.51 97.70,303.26 97.90,302.66 98.09,306.29 98.28,304.60 98.48,304.54 98.67,303.76 98.86,305.78 99.06,307.29 99.25,306.15 99.44,307.45 99.64,306.75 99.83,308.62 100.03,311.26 100.22,309.70 100.41,308.53 100.61,310.46 100.80,309.33 100.99,310.95 101.19,311.89 101.38,310.85 101.57,310.46 101.77,314.31 101.96,313.46 102.16,312.21 102.35,314.19 102.54,316.90 102.74,313.23 102.93,316.75 103.12,315.76 103.32,317.20 103.51,317.50 103.70,317.66 103.90,316.46 104.09,320.37 104.28,316.32 104.48,317.82 104.67,318.29 104.87,319.30 105.06,323.22 105.25,319.13 105.45,321.14 105.64,320.56 105.83,320.75 106.03,323.00 106.22,325.37 106.41,321.33 106.61,326.16 106.80,325.37 107.00,325.37 107.19,321.73 107.38,326.44 107.58,325.63 107.77,324.14 107.96,322.57 108.16,324.38 108.35,326.16 108.54,327.88 108.74,329.47 108.93,327.88 109.12,325.90 109.32,327.88 109.51,327.88 109.71,329.14 109.90,327.88 110.09,329.81 110.29,328.81 110.48,330.15 110.67,332.01 110.87,332.01 111.06,337.12 111.25,336.58 111.45,333.68 111.64,331.24 111.84,332.82 112.03,330.15 112.22,339.49 112.42,332.82 112.61,336.05 112.80,334.58 113.00,335.06 113.19,340.15 113.38,340.83 113.58,338.86 113.77,334.58 113.96,344.80 114.16,339.49 114.35,345.30 114.55,342.30 114.74,340.83 114.93,337.68 115.13,339.49 115.32,335.06 115.51,339.49 115.71,336.58 115.90,340.15 116.09,342.30 116.29,337.12 116.48,343.09 116.68,345.30 116.87,336.58 117.06,345.30 117.26,345.30 117.45,345.30 117.64,345.30 117.84,341.55 118.03,345.30 118.22,345.30 118.42,342.30 118.61,343.92 118.80,340.15 119.00,341.55 119.19,343.09 119.39,345.30 119.58,345.30 119.77,345.30 119.97,345.30 120.16,345.30 120.35,343.09 120.55,340.15 120.74,345.30 120.93,345.30 121.13,343.92 121.32,345.30 121.52,345.30 121.71,345.30 121.90,345.30 122.10,344.80 122.29,345.30 122.48,345.30 122.68,345.30 122.87,345.30 123.06,345.30 123.26,345.30 123.45,345.30 123.64,345.30 123.84,345.30 124.03,345.30 124.23,345.30 124.42,345.30 124.61,345.30 124.81,345.30 125.00,345.30 125.19,345.30 125.39,343.92 125.58,345.30 125.77,345.30 125.97,345.30 126.16,345.30 126.36,345.30 126.55,345.30 126.74,345.30 126.94,345.30 127.13,345.30 127.32,345.30 127.52,345.30 127.71,345.30 127.90,345.30 128.10,345.30 128.29,345.30 128.48,345.30 128.68,345.30 128.87,345.30 129.07,345.30 129.26,345.30 129.45,345.30 129.65,345.30 129.84,345.30 130.03,345.30 130.23,345.30 130.42,345.30 130.61,345.30 130.81,345.30 131.00,345.30 131.20,345.30 131.39,345.30 131.58,345.30 131.78,345.30 131.97,345.30 132.16,345.30 132.36,345.30 132.55,345.30 132.74,345.30 132.94,345.30 133.13,345.30 133.32,345.30 133.52,345.30 133.71,345.30 133.91,345.30" fill="none" stroke="#BF4C49" stroke-width="1.35" stroke-linejoin="round" stroke-linecap="butt" clip-path="url(#cBL)"/>
<polyline points="52.59,216.46 52.79,220.39 52.98,223.72 53.17,226.40 53.37,228.73 53.56,230.67 53.76,232.27 53.95,233.76 54.14,235.11 54.34,236.32 54.53,237.36 54.72,238.21 54.92,238.90 55.11,239.51 55.30,240.07 55.50,240.57 55.69,241.03 55.88,241.44 56.08,241.81 56.27,242.04 56.47,242.43 56.66,242.48 56.85,243.73 57.05,244.02 57.24,243.42 57.43,243.03 57.63,244.21 57.82,243.78 58.01,243.64 58.21,244.83 58.40,245.09 58.60,244.97 58.79,246.09 58.98,244.81 59.18,244.81 59.37,245.71 59.56,245.25 59.76,245.37 59.95,246.53 60.14,246.05 60.34,245.91 60.53,247.33 60.72,248.11 60.92,247.18 61.11,247.57 61.31,247.36 61.50,248.29 61.69,248.36 61.89,248.59 62.08,248.06 62.27,247.44 62.47,249.46 62.66,249.76 62.85,249.66 63.05,250.25 63.24,248.97 63.44,249.24 63.63,250.41 63.82,250.09 64.02,250.07 64.21,250.65 64.40,251.00 64.60,251.00 64.79,250.57 64.98,251.39 65.18,250.59 65.37,252.02 65.56,251.64 65.76,250.81 65.95,252.02 66.15,251.11 66.34,251.25 66.53,251.99 66.73,251.62 66.92,251.73 67.11,251.11 67.31,251.03 67.50,252.68 67.69,251.73 67.89,253.92 68.08,253.21 68.28,253.24 68.47,253.18 68.66,252.86 68.86,253.43 69.05,254.74 69.24,255.16 69.44,253.27 69.63,253.05 69.82,254.39 70.02,252.47 70.21,253.43 70.40,254.88 70.60,255.41 70.79,254.15 70.99,253.95 71.18,254.32 71.37,254.91 71.57,254.81 71.76,255.82 71.95,255.12 72.15,255.82 72.34,256.35 72.53,254.81 72.73,257.03 72.92,256.20 73.12,256.16 73.31,256.51 73.50,256.16 73.70,255.67 73.89,256.95 74.08,256.75 74.28,254.42 74.47,255.34 74.66,256.24 74.86,256.16 75.05,255.67 75.24,255.30 75.44,257.44 75.63,256.51 75.83,256.09 76.02,255.56 76.21,257.57 76.41,255.52 76.60,256.51 76.79,256.79 76.99,255.56 77.18,256.43 77.37,256.09 77.57,256.35 77.76,257.90 77.96,257.07 78.15,257.11 78.34,257.78 78.54,257.57 78.73,256.51 78.92,257.03 79.12,256.91 79.31,257.23 79.50,258.30 79.70,257.61 79.89,258.74 80.08,258.43 80.28,257.95 80.47,258.65 80.67,257.40 80.86,258.65 81.05,257.73 81.25,259.02 81.44,256.91 81.63,257.23 81.83,259.11 82.02,257.44 82.21,258.38 82.41,258.08 82.60,257.44 82.80,258.61 82.99,259.44 83.18,259.68 83.38,259.97 83.57,259.72 83.76,259.92 83.96,260.02 84.15,260.37 84.34,259.20 84.54,259.25 84.73,259.39 84.92,260.83 85.12,260.47 85.31,259.87 85.51,261.14 85.70,261.30 85.89,261.57 86.09,261.73 86.28,260.32 86.47,261.62 86.67,259.87 86.86,261.68 87.05,262.29 87.25,261.46 87.44,262.99 87.64,262.01 87.83,259.87 88.02,262.12 88.22,261.03 88.41,262.52 88.60,262.64 88.80,261.52 88.99,263.36 89.18,263.79 89.38,261.68 89.57,261.62 89.76,263.42 89.96,263.54 90.15,263.11 90.35,263.30 90.54,262.18 90.73,263.73 90.93,264.56 91.12,263.67 91.31,265.31 91.51,265.80 91.70,265.95 91.89,264.56 92.09,265.03 92.28,263.48 92.48,265.24 92.67,265.38 92.86,266.09 93.06,265.45 93.25,264.83 93.44,265.10 93.64,265.24 93.83,265.17 94.02,265.38 94.22,267.39 94.41,266.39 94.60,267.71 94.80,266.31 94.99,267.71 95.19,266.69 95.38,266.54 95.57,267.95 95.77,266.39 95.96,267.31 96.15,264.70 96.35,268.89 96.54,267.39 96.73,267.31 96.93,269.15 97.12,268.37 97.32,269.88 97.51,269.06 97.70,269.42 97.90,265.95 98.09,268.54 98.28,268.20 98.48,267.87 98.67,269.51 98.86,269.24 99.06,270.84 99.25,270.84 99.44,269.51 99.64,271.56 99.83,267.71 100.03,271.56 100.22,268.89 100.41,268.37 100.61,269.06 100.80,270.26 100.99,270.94 101.19,270.16 101.38,269.70 101.57,272.41 101.77,269.88 101.96,269.98 102.16,271.87 102.35,270.55 102.54,270.75 102.74,270.45 102.93,269.51 103.12,273.32 103.32,270.55 103.51,272.09 103.70,271.98 103.90,272.75 104.09,274.04 104.28,272.97 104.48,272.75 104.67,271.87 104.87,273.32 105.06,271.56 105.25,274.04 105.45,273.44 105.64,274.04 105.83,273.44 106.03,276.27 106.22,274.41 106.41,273.09 106.61,275.05 106.80,274.92 107.00,274.53 107.19,273.32 107.38,274.16 107.58,274.04 107.77,274.28 107.96,275.05 108.16,274.92 108.35,276.13 108.54,273.79 108.74,275.05 108.93,275.99 109.12,276.27 109.32,278.23 109.51,279.05 109.71,279.74 109.90,275.99 110.09,276.41 110.29,278.23 110.48,276.99 110.67,277.44 110.87,277.60 111.06,279.22 111.25,278.07 111.45,277.29 111.64,280.65 111.84,279.22 112.03,280.28 112.22,277.29 112.42,277.44 112.61,278.39 112.80,278.71 113.00,279.05 113.19,279.05 113.38,278.55 113.58,278.55 113.77,277.29 113.96,279.92 114.16,276.85 114.35,279.92 114.55,282.87 114.74,279.74 114.93,280.28 115.13,281.62 115.32,283.54 115.51,283.31 115.71,281.62 115.90,281.23 116.09,285.21 116.29,287.38 116.48,282.66 116.68,283.09 116.87,279.57 117.06,281.42 117.26,282.24 117.45,284.00 117.64,284.00 117.84,286.81 118.03,279.57 118.22,281.82 118.42,282.24 118.61,282.03 118.80,281.62 119.00,282.66 119.19,284.72 119.39,283.54 119.58,283.54 119.77,285.21 119.97,283.31 120.16,282.66 120.35,283.31 120.55,285.99 120.74,287.38 120.93,287.97 121.13,282.45 121.32,284.00 121.52,284.23 121.71,287.09 121.90,288.59 122.10,286.81 122.29,287.09 122.48,284.23 122.68,287.09 122.87,287.09 123.06,287.09 123.26,286.81 123.45,287.38 123.64,287.38 123.84,289.90 124.03,288.59 124.23,285.47 124.42,288.90 124.61,284.96 124.81,289.23 125.00,287.38 125.19,289.90 125.39,286.53 125.58,288.28 125.77,286.53 125.97,290.25 126.16,290.60 126.36,289.90 126.55,289.56 126.74,287.09 126.94,288.59 127.13,288.90 127.32,286.26 127.52,292.10 127.71,287.38 127.90,289.23 128.10,289.90 128.29,288.59 128.48,290.25 128.68,286.81 128.87,288.90 129.07,289.56 129.26,294.22 129.45,296.15 129.65,290.60 129.84,295.64 130.03,290.96 130.23,291.33 130.42,294.22 130.61,290.60 130.81,292.91 131.00,289.90 131.20,295.15 131.39,290.96 131.58,290.25 131.78,289.90 131.97,291.33 132.16,294.68 132.36,296.15 132.55,294.22 132.74,291.33 132.94,296.15 133.13,295.15 133.32,290.60 133.52,294.22 133.71,297.77 133.91,290.96 134.10,293.77 134.29,295.15 134.49,297.77 134.68,296.67 134.87,292.91 135.07,298.35 135.26,295.64 135.45,297.21 135.65,295.64 135.84,298.95 136.04,293.34 136.23,294.22 136.42,292.50 136.62,298.95 136.81,297.21 137.00,294.68 137.20,295.15 137.39,301.64 137.58,305.83 137.78,297.21 137.97,298.95 138.16,296.67 138.36,302.39 138.55,297.21 138.75,307.89 138.94,303.18 139.13,300.92 139.33,307.89 139.52,293.77 139.71,304.02 139.91,299.58 140.10,304.02 140.29,300.24 140.49,301.64 140.68,299.58 140.88,300.24 141.07,300.24 141.26,300.92 141.46,302.39 141.65,300.24 141.84,304.90 142.04,296.15 142.23,302.39 142.42,307.89 142.62,306.83 142.81,301.64 143.00,300.92 143.20,305.83 143.39,301.64 143.59,320.94 143.78,300.24 143.97,301.64 144.17,304.90 144.36,303.18 144.55,302.39 144.75,311.60 144.94,306.83 145.13,304.90 145.33,313.07 145.52,309.03 145.72,309.03 145.91,316.51 146.10,304.90 146.30,304.02 146.49,307.89 146.68,300.24 146.88,303.18 147.07,303.18 147.26,309.03 147.46,305.83 147.65,304.90 147.84,309.03 148.04,307.89 148.23,318.57 148.43,320.94 148.62,300.92 148.81,307.89 149.01,306.83 149.20,305.83 149.39,313.07 149.59,311.60 149.78,310.26 149.97,309.03 150.17,309.03 150.36,305.83 150.56,307.89 150.75,306.83 150.94,307.89 151.14,311.60 151.33,304.02 151.52,313.07 151.72,314.70 151.91,313.07 152.10,313.07 152.30,316.51 152.49,316.51 152.68,316.51 152.88,313.07 153.07,316.51 153.27,311.60 153.46,311.60 153.65,313.07 153.85,311.60 154.04,323.75 154.23,310.26 154.43,313.07 154.62,316.51 154.81,309.03 155.01,304.02 155.20,309.03 155.40,316.51 155.59,316.51 155.78,314.70 155.98,311.60 156.17,323.75 156.36,314.70 156.56,309.03 156.75,314.70 156.94,314.70 157.14,320.94 157.33,311.60 157.52,313.07 157.72,311.60 157.91,311.60 158.11,314.70 158.30,314.70 158.49,318.57 158.69,311.60 158.88,337.87 159.07,313.07 159.27,313.07 159.46,331.62 159.65,323.75 159.85,316.51 160.04,316.51 160.24,323.75 160.43,320.94 160.62,331.62 160.82,323.75 161.01,331.62 161.20,318.57 161.40,316.51 161.59,314.70 161.78,327.19 161.98,327.19 162.17,327.19 162.36,337.87 162.56,314.70 162.75,323.75 162.95,323.75 163.14,331.62 163.33,331.62 163.53,320.94 163.72,320.94 163.91,337.87 164.11,323.75 164.30,337.87 164.49,323.75 164.69,327.19 164.88,327.19 165.08,323.75 165.27,327.19 165.46,327.19 165.66,327.19 165.85,337.87 166.04,337.87 166.24,337.87 166.43,331.62 166.62,337.87 166.82,320.94 167.01,323.75 167.20,327.19 167.40,331.62 167.59,337.87 167.79,323.75 167.98,331.62 168.17,331.62 168.37,323.75 168.56,327.19 168.75,331.62 168.95,331.62 169.14,331.62 169.33,331.62 169.53,331.62 169.72,345.30 169.92,337.87 170.11,331.62 170.30,327.19 170.50,337.87 170.69,327.19 170.88,331.62 171.08,345.30 171.27,345.30 171.46,331.62 171.66,337.87 171.85,337.87 172.04,331.62 172.24,337.87 172.43,337.87 172.63,345.30 172.82,337.87 173.01,323.75 173.21,337.87 173.40,331.62 173.59,331.62 173.79,331.62 173.98,331.62 174.17,331.62 174.37,337.87 174.56,327.19 174.76,345.30 174.95,323.75 175.14,331.62 175.34,337.87 175.53,337.87 175.72,345.30 175.92,345.30 176.11,331.62 176.30,345.30 176.50,345.30 176.69,345.30 176.88,345.30 177.08,345.30 177.27,345.30 177.47,345.30 177.66,345.30 177.85,345.30 178.05,345.30 178.24,345.30 178.43,345.30 178.63,345.30 178.82,327.19 179.01,345.30 179.21,337.87 179.40,337.87 179.60,345.30 179.79,337.87 179.98,345.30 180.18,345.30 180.37,345.30 180.56,327.19 180.76,345.30 180.95,331.62 181.14,345.30 181.34,345.30 181.53,345.30 181.72,345.30 181.92,345.30 182.11,345.30 182.31,337.87 182.50,345.30 182.69,337.87 182.89,345.30 183.08,327.19 183.27,345.30 183.47,345.30 183.66,345.30 183.85,345.30 184.05,345.30 184.24,337.87 184.44,345.30 184.63,345.30 184.82,345.30 185.02,345.30 185.21,345.30 185.40,345.30 185.60,345.30 185.79,345.30 185.98,345.30 186.18,345.30 186.37,345.30 186.56,345.30 186.76,345.30 186.95,345.30 187.15,345.30 187.34,345.30 187.53,345.30 187.73,331.62 187.92,345.30 188.11,345.30 188.31,345.30 188.50,345.30 188.69,345.30 188.89,345.30 189.08,345.30 189.28,345.30 189.47,345.30 189.66,345.30 189.86,345.30 190.05,345.30 190.24,337.87 190.44,345.30 190.63,345.30 190.82,345.30 191.02,345.30 191.21,345.30 191.40,345.30 191.60,345.30 191.79,345.30 191.99,345.30 192.18,345.30 192.37,345.30 192.57,345.30 192.76,345.30 192.95,345.30 193.15,345.30 193.34,345.30 193.53,345.30 193.73,345.30 193.92,345.30 194.12,345.30 194.31,345.30 194.50,345.30 194.70,345.30 194.89,345.30 195.08,345.30" fill="none" stroke="#97B955" stroke-width="1.35" stroke-linejoin="round" stroke-linecap="butt" clip-path="url(#cBL)"/>
<polyline points="52.59,218.43 52.79,223.32 52.98,227.62 53.17,231.48 53.37,235.03 53.56,237.65 53.76,239.19 53.95,240.42 54.14,241.44 54.34,242.30 54.53,243.07 54.72,243.80 54.92,244.55 55.11,245.27 55.30,245.96 55.50,246.60 55.69,247.19 55.88,247.74 56.08,248.22 56.27,249.13 56.47,249.24 56.66,248.37 56.85,249.26 57.05,250.32 57.24,250.80 57.43,251.07 57.63,251.05 57.82,251.36 58.01,250.99 58.21,252.16 58.40,251.62 58.60,252.36 58.79,251.92 58.98,252.16 59.18,251.81 59.37,252.01 59.56,252.01 59.76,252.63 59.95,252.27 60.14,253.43 60.34,253.92 60.53,254.66 60.72,253.77 60.92,254.19 61.11,254.60 61.31,255.46 61.50,254.84 61.69,254.53 61.89,254.42 62.08,254.37 62.27,254.55 62.47,254.60 62.66,254.84 62.85,255.54 63.05,254.48 63.24,254.58 63.44,254.92 63.63,256.34 63.82,254.81 64.02,255.85 64.21,255.27 64.40,255.43 64.60,253.48 64.79,254.63 64.98,256.54 65.18,255.63 65.37,255.74 65.56,255.05 65.76,255.21 65.95,255.91 66.15,255.40 66.34,256.36 66.53,255.79 66.73,255.21 66.92,255.11 67.11,256.69 67.31,257.54 67.50,255.99 67.69,256.54 67.89,255.85 68.08,255.76 68.28,256.75 68.47,256.42 68.66,256.57 68.86,256.63 69.05,256.51 69.24,256.45 69.44,256.84 69.63,256.93 69.82,255.68 70.02,256.72 70.21,257.26 70.40,258.45 70.60,257.14 70.79,255.96 70.99,257.33 71.18,256.45 71.37,256.90 71.57,256.25 71.76,257.96 71.95,258.06 72.15,257.80 72.34,258.48 72.53,257.48 72.73,258.48 72.92,255.79 73.12,257.67 73.31,257.51 73.50,257.89 73.70,257.80 73.89,257.58 74.08,258.52 74.28,257.80 74.47,257.08 74.66,258.79 74.86,259.45 75.05,257.45 75.24,257.64 75.44,257.20 75.63,257.86 75.83,259.41 76.02,258.82 76.21,259.63 76.41,257.83 76.60,258.52 76.79,257.42 76.99,257.89 77.18,257.67 77.37,258.86 77.57,259.27 77.76,257.67 77.96,257.45 78.15,258.12 78.34,258.52 78.54,258.62 78.73,257.96 78.92,257.67 79.12,258.02 79.31,259.66 79.50,259.03 79.70,259.70 79.89,259.31 80.08,259.27 80.28,259.99 80.47,259.92 80.67,258.15 80.86,258.69 81.05,260.79 81.25,260.14 81.44,260.10 81.63,259.56 81.83,259.77 82.02,260.14 82.21,260.59 82.41,260.59 82.60,260.63 82.80,260.18 82.99,261.34 83.18,258.89 83.38,260.25 83.57,260.59 83.76,259.77 83.96,261.26 84.15,261.54 84.34,261.06 84.54,260.79 84.73,260.83 84.92,261.75 85.12,260.63 85.31,260.10 85.51,260.71 85.70,261.26 85.89,261.30 86.09,261.34 86.28,262.25 86.47,261.10 86.67,260.59 86.86,262.34 87.05,261.62 87.25,262.95 87.44,261.02 87.64,261.42 87.83,261.58 88.02,262.21 88.22,262.29 88.41,260.14 88.60,262.17 88.80,263.59 88.99,262.47 89.18,262.51 89.38,261.02 89.57,263.50 89.76,262.47 89.96,261.71 90.15,263.13 90.35,262.47 90.54,262.64 90.73,262.95 90.93,264.65 91.12,261.58 91.31,262.95 91.51,263.45 91.70,263.04 91.89,264.06 92.09,264.25 92.28,264.85 92.48,264.01 92.67,263.97 92.86,262.99 93.06,265.21 93.25,265.41 93.44,264.30 93.64,264.40 93.83,265.95 94.02,263.92 94.22,264.45 94.41,264.11 94.60,265.41 94.80,263.13 94.99,265.21 95.19,265.68 95.38,264.16 95.57,265.05 95.77,264.35 95.96,265.26 96.15,265.36 96.35,265.68 96.54,264.11 96.73,265.68 96.93,266.50 97.12,266.61 97.32,269.06 97.51,265.63 97.70,265.89 97.90,265.15 98.09,265.15 98.28,265.15 98.48,265.36 98.67,266.11 98.86,266.22 99.06,266.84 99.25,265.05 99.44,267.19 99.64,265.63 99.83,266.90 100.03,265.84 100.22,267.13 100.41,265.52 100.61,266.84 100.80,267.73 100.99,267.31 101.19,267.61 101.38,267.79 101.57,266.96 101.77,266.78 101.96,268.73 102.16,268.48 102.35,266.28 102.54,265.63 102.74,267.19 102.93,267.43 103.12,267.01 103.32,268.22 103.51,268.87 103.70,268.22 103.90,267.73 104.09,268.41 104.28,269.74 104.48,268.10 104.67,266.33 104.87,268.61 105.06,268.54 105.25,268.35 105.45,268.16 105.64,267.79 105.83,268.80 106.03,267.43 106.22,271.58 106.41,269.95 106.61,268.87 106.80,268.48 107.00,270.67 107.19,270.82 107.38,268.61 107.58,268.54 107.77,269.81 107.96,272.47 108.16,268.93 108.35,268.54 108.54,270.16 108.74,269.06 108.93,271.27 109.12,271.58 109.32,270.89 109.51,271.04 109.71,270.53 109.90,271.58 110.09,269.81 110.29,270.97 110.48,271.04 110.67,272.14 110.87,272.39 111.06,270.45 111.25,271.35 111.45,271.20 111.64,270.38 111.84,270.60 112.03,271.50 112.22,269.47 112.42,271.04 112.61,272.06 112.80,270.75 113.00,272.22 113.19,270.89 113.38,271.74 113.58,270.16 113.77,272.80 113.96,272.22 114.16,271.12 114.35,272.89 114.55,273.50 114.74,272.63 114.93,272.97 115.13,272.30 115.32,271.43 115.51,272.47 115.71,274.69 115.90,274.13 116.09,272.39 116.29,272.14 116.48,273.41 116.68,271.04 116.87,272.30 117.06,275.08 117.26,272.89 117.45,272.06 117.64,273.41 117.84,271.58 118.03,271.82 118.22,273.50 118.42,274.22 118.61,273.94 118.80,272.80 119.00,274.31 119.19,274.22 119.39,273.67 119.58,272.72 119.77,274.79 119.97,271.82 120.16,273.58 120.35,272.89 120.55,274.22 120.74,273.50 120.93,274.31 121.13,274.98 121.32,276.96 121.52,276.20 121.71,273.85 121.90,273.67 122.10,275.48 122.29,272.39 122.48,275.18 122.68,276.52 122.87,274.31 123.06,275.18 123.26,274.60 123.45,273.67 123.64,274.60 123.84,273.06 124.03,274.50 124.23,273.94 124.42,275.28 124.61,275.18 124.81,275.48 125.00,277.64 125.19,277.99 125.39,276.52 125.58,275.18 125.77,275.68 125.97,278.84 126.16,276.96 126.36,274.88 126.55,276.63 126.74,274.88 126.94,276.09 127.13,275.99 127.32,277.87 127.52,274.69 127.71,275.28 127.90,277.29 128.10,276.63 128.29,276.96 128.48,276.52 128.68,275.99 128.87,277.29 129.07,278.59 129.26,276.96 129.45,277.87 129.65,276.85 129.84,276.52 130.03,277.75 130.23,277.75 130.42,277.87 130.61,277.75 130.81,276.96 131.00,278.59 131.20,277.64 131.39,279.09 131.58,276.96 131.78,278.47 131.97,279.74 132.16,279.88 132.36,275.89 132.55,278.71 132.74,276.74 132.94,279.35 133.13,276.20 133.32,278.59 133.52,277.99 133.71,279.74 133.91,277.99 134.10,277.41 134.29,278.47 134.49,277.64 134.68,280.70 134.87,279.74 135.07,280.42 135.26,279.61 135.45,280.56 135.65,278.97 135.84,280.56 136.04,281.57 136.23,280.70 136.42,279.22 136.62,278.71 136.81,282.18 137.00,278.97 137.20,277.87 137.39,278.97 137.58,278.97 137.78,279.61 137.97,278.59 138.16,278.71 138.36,279.48 138.55,279.09 138.75,278.97 138.94,280.42 139.13,279.22 139.33,278.84 139.52,279.61 139.71,279.48 139.91,281.28 140.10,281.88 140.29,281.28 140.49,283.82 140.68,281.13 140.88,279.88 141.07,279.88 141.26,278.71 141.46,280.70 141.65,284.35 141.84,280.70 142.04,283.15 142.23,283.48 142.42,280.70 142.62,282.34 142.81,280.28 143.00,282.18 143.20,283.48 143.39,281.57 143.59,283.65 143.78,283.15 143.97,282.03 144.17,282.98 144.36,282.66 144.55,282.82 144.75,284.35 144.94,282.50 145.13,283.65 145.33,283.65 145.52,286.26 145.72,287.52 145.91,282.03 146.10,281.88 146.30,282.82 146.49,285.86 146.68,284.00 146.88,284.17 147.07,282.98 147.26,283.15 147.46,281.28 147.65,282.98 147.84,284.17 148.04,284.90 148.23,284.53 148.43,285.09 148.62,284.90 148.81,282.98 149.01,285.28 149.20,284.72 149.39,285.09 149.59,284.90 149.78,282.66 149.97,284.72 150.17,287.31 150.36,283.82 150.56,284.00 150.75,284.90 150.94,285.28 151.14,286.06 151.33,281.88 151.52,288.20 151.72,287.52 151.91,287.31 152.10,286.06 152.30,285.28 152.49,289.90 152.68,286.26 152.88,285.47 153.07,282.82 153.27,286.46 153.46,284.90 153.65,290.69 153.85,286.46 154.04,287.31 154.23,289.39 154.43,287.31 154.62,287.97 154.81,283.82 155.01,285.86 155.20,286.88 155.40,287.75 155.59,287.97 155.78,287.52 155.98,286.88 156.17,288.90 156.36,285.47 156.56,290.42 156.75,285.66 156.94,287.31 157.14,286.88 157.33,289.39 157.52,286.67 157.72,287.75 157.91,287.52 158.11,286.88 158.30,290.16 158.49,286.88 158.69,288.20 158.88,289.90 159.07,288.43 159.27,286.67 159.46,286.88 159.65,291.81 159.85,287.52 160.04,288.20 160.24,286.88 160.43,292.10 160.62,287.31 160.82,287.52 161.01,287.31 161.20,287.52 161.40,289.64 161.59,292.10 161.78,290.42 161.98,291.81 162.17,293.02 162.36,289.39 162.56,287.52 162.75,287.31 162.95,290.69 163.14,291.52 163.33,293.99 163.53,292.10 163.72,291.52 163.91,290.69 164.11,288.43 164.30,292.71 164.49,287.31 164.69,287.52 164.88,291.81 165.08,290.16 165.27,296.15 165.46,291.24 165.66,295.77 165.85,290.42 166.04,291.81 166.24,293.02 166.43,288.90 166.62,293.02 166.82,292.71 167.01,293.66 167.20,289.39 167.40,295.39 167.59,292.71 167.79,292.10 167.98,296.54 168.17,290.96 168.37,289.64 168.56,296.15 168.75,295.03 168.95,292.40 169.14,296.94 169.33,291.81 169.53,291.24 169.72,291.52 169.92,291.24 170.11,293.66 170.30,296.54 170.50,293.66 170.69,296.15 170.88,288.67 171.08,295.03 171.27,293.34 171.46,297.35 171.66,296.15 171.85,292.40 172.04,296.94 172.24,292.40 172.43,289.64 172.63,295.03 172.82,299.58 173.01,294.68 173.21,298.20 173.40,296.54 173.59,300.58 173.79,298.65 173.98,301.10 174.17,294.68 174.37,292.40 174.56,293.99 174.76,296.15 174.95,295.03 175.14,293.99 175.34,294.68 175.53,295.03 175.72,295.03 175.92,293.66 176.11,296.94 176.30,293.99 176.50,295.03 176.69,298.65 176.88,296.54 177.08,295.77 177.27,296.94 177.47,297.77 177.66,304.67 177.85,298.65 178.05,296.54 178.24,293.99 178.43,297.77 178.63,296.94 178.82,299.58 179.01,301.64 179.21,298.20 179.40,298.65 179.60,297.35 179.79,301.64 179.98,298.20 180.18,299.58 180.37,294.68 180.56,297.77 180.76,299.11 180.95,305.36 181.14,302.78 181.34,296.15 181.53,301.10 181.72,299.11 181.92,299.11 182.11,300.58 182.31,301.64 182.50,297.77 182.69,301.64 182.89,300.58 183.08,300.07 183.27,300.07 183.47,307.62 183.66,302.78 183.85,302.78 184.05,296.94 184.24,303.39 184.44,301.64 184.63,305.36 184.82,298.65 185.02,303.39 185.21,302.20 185.40,301.64 185.60,305.36 185.79,304.67 185.98,303.39 186.18,300.07 186.37,303.39 186.56,298.65 186.76,303.39 186.95,297.35 187.15,297.35 187.34,295.77 187.53,304.67 187.73,301.64 187.92,307.62 188.11,301.64 188.31,302.78 188.50,301.10 188.69,306.07 188.89,304.67 189.08,308.45 189.28,300.58 189.47,299.58 189.66,306.83 189.86,300.07 190.05,297.77 190.24,304.67 190.44,302.78 190.63,302.20 190.82,306.07 191.02,311.26 191.21,302.78 191.40,305.36 191.60,306.83 191.79,304.02 191.99,302.78 192.18,300.07 192.37,302.78 192.57,313.46 192.76,304.02 192.95,306.83 193.15,302.78 193.34,307.62 193.53,312.32 193.73,304.02 193.92,309.33 194.12,309.33 194.31,304.67 194.50,302.20 194.70,303.39 194.89,308.45 195.08,307.62 195.28,308.45 195.47,310.26 195.66,307.62 195.86,307.62 196.05,311.26 196.24,308.45 196.44,309.33 196.63,311.26 196.83,311.26 197.02,313.46 197.21,309.33 197.41,303.39 197.60,304.67 197.79,302.78 197.99,306.07 198.18,310.26 198.37,311.26 198.57,313.46 198.76,309.33 198.96,309.33 199.15,307.62 199.34,310.26 199.54,311.26 199.73,308.45 199.92,314.70 200.12,316.04 200.31,301.64 200.50,310.26 200.70,309.33 200.89,314.70 201.08,309.33 201.28,314.70 201.47,310.26 201.67,312.32 201.86,310.26 202.05,307.62 202.25,309.33 202.44,308.45 202.63,304.67 202.83,312.32 203.02,314.70 203.21,306.83 203.41,311.26 203.60,312.32 203.80,316.04 203.99,312.32 204.18,317.50 204.38,323.00 204.57,316.04 204.76,316.04 204.96,304.67 205.15,316.04 205.34,307.62 205.54,312.32 205.73,310.26 205.92,323.00 206.12,311.26 206.31,313.46 206.51,310.26 206.70,319.13 206.89,312.32 207.09,313.46 207.28,311.26 207.47,312.32 207.67,316.04 207.86,308.45 208.05,317.50 208.25,308.45 208.44,308.45 208.64,308.45 208.83,323.00 209.02,317.50 209.22,317.50 209.41,317.50 209.60,317.50 209.80,312.32 209.99,320.94 210.18,310.26 210.38,312.32 210.57,313.46 210.76,313.46 210.96,310.26 211.15,313.46 211.35,311.26 211.54,313.46 211.73,312.32 211.93,325.37 212.12,323.00 212.31,319.13 212.51,311.26 212.70,312.32 212.89,312.32 213.09,316.04 213.28,320.94 213.48,314.70 213.67,316.04 213.86,314.70 214.06,310.26 214.25,323.00 214.44,319.13 214.64,317.50 214.83,316.04 215.02,312.32 215.22,313.46 215.41,323.00 215.60,320.94 215.80,328.18 215.99,316.04 216.19,328.18 216.38,323.00 216.57,331.62 216.77,320.94 216.96,323.00 217.15,331.62 217.35,319.13 217.54,316.04 217.73,316.04 217.93,316.04 218.12,328.18 218.32,323.00 218.51,320.94 218.70,319.13 218.90,316.04 219.09,317.50 219.28,317.50 219.48,320.94 219.67,319.13 219.86,323.00 220.06,323.00 220.25,336.05 220.44,320.94 220.64,323.00 220.83,323.00 221.03,319.13 221.22,319.13 221.41,320.94 221.61,319.13 221.80,331.62 221.99,323.00 222.19,323.00 222.38,314.70 222.57,320.94 222.77,325.37 222.96,323.00 223.16,325.37 223.35,328.18 223.54,325.37 223.74,328.18 223.93,313.46 224.12,325.37 224.32,325.37 224.51,323.00 224.70,319.13 224.90,320.94 225.09,316.04 225.28,325.37 225.48,328.18 225.67,323.00 225.87,325.37 226.06,331.62 226.25,320.94 226.45,325.37 226.64,323.00 226.83,316.04 227.03,336.05 227.22,336.05 227.41,319.13 227.61,319.13 227.80,323.00 228.00,323.00 228.19,336.05 228.38,325.37 228.58,328.18 228.77,323.00 228.96,316.04 229.16,323.00 229.35,323.00 229.54,331.62 229.74,325.37 229.93,320.94 230.12,325.37 230.32,331.62 230.51,328.18 230.71,323.00 230.90,325.37 231.09,320.94 231.29,320.94 231.48,320.94 231.67,342.30 231.87,328.18 232.06,328.18 232.25,328.18 232.45,319.13 232.64,342.30 232.84,320.94 233.03,342.30 233.22,325.37 233.42,342.30 233.61,323.00 233.80,328.18 234.00,317.50 234.19,331.62 234.38,328.18 234.58,328.18 234.77,345.30 234.96,323.00 235.16,336.05 235.35,336.05 235.55,323.00 235.74,320.94 235.93,331.62 236.13,323.00 236.32,323.00 236.51,342.30 236.71,331.62 236.90,320.94 237.09,325.37 237.29,325.37 237.48,331.62 237.68,328.18 237.87,331.62 238.06,336.05 238.26,331.62 238.45,331.62 238.64,323.00 238.84,345.30 239.03,320.94 239.22,323.00 239.42,345.30 239.61,331.62 239.80,325.37 240.00,331.62 240.19,328.18 240.39,342.30 240.58,331.62 240.77,336.05 240.97,323.00 241.16,336.05 241.35,320.94 241.55,325.37 241.74,331.62 241.93,336.05 242.13,336.05 242.32,342.30 242.52,331.62 242.71,345.30 242.90,336.05 243.10,325.37 243.29,328.18 243.48,336.05 243.68,325.37 243.87,336.05 244.06,331.62 244.26,331.62 244.45,328.18 244.64,336.05 244.84,328.18 245.03,323.00 245.23,328.18 245.42,320.94 245.61,336.05 245.81,323.00 246.00,336.05" fill="none" stroke="#725B9E" stroke-width="1.35" stroke-linejoin="round" stroke-linecap="butt" clip-path="url(#cBL)"/>
<clipPath id="cBR"><rect x="308.4" y="200.0" width="207.20000000000005" height="138.3"/></clipPath>
<line x1="308.4" x2="514.6" y1="200.50" y2="200.50" stroke="#EDEDED" stroke-width="1"/>
<line x1="308.4" x2="514.6" y1="223.38" y2="223.38" stroke="#EDEDED" stroke-width="1"/>
<line x1="308.4" x2="514.6" y1="246.27" y2="246.27" stroke="#EDEDED" stroke-width="1"/>
<line x1="308.4" x2="514.6" y1="269.15" y2="269.15" stroke="#EDEDED" stroke-width="1"/>
<line x1="308.4" x2="514.6" y1="292.03" y2="292.03" stroke="#EDEDED" stroke-width="1"/>
<line x1="308.4" x2="514.6" y1="314.92" y2="314.92" stroke="#EDEDED" stroke-width="1"/>
<line x1="308.4" x2="514.6" y1="337.80" y2="337.80" stroke="#EDEDED" stroke-width="1"/>
<line x1="308.40" x2="308.40" y1="200.5" y2="337.8" stroke="#EDEDED" stroke-width="1"/>
<line x1="359.95" x2="359.95" y1="200.5" y2="337.8" stroke="#EDEDED" stroke-width="1"/>
<line x1="411.50" x2="411.50" y1="200.5" y2="337.8" stroke="#EDEDED" stroke-width="1"/>
<line x1="463.05" x2="463.05" y1="200.5" y2="337.8" stroke="#EDEDED" stroke-width="1"/>
<line x1="514.60" x2="514.60" y1="200.5" y2="337.8" stroke="#EDEDED" stroke-width="1"/>
<polyline points="318.71,211.30 329.02,246.30 339.33,265.50 349.64,278.00 359.95,286.30 370.26,292.00 380.57,296.10 390.88,300.20 401.19,303.40 411.50,305.80 421.81,308.20 432.12,310.30 442.43,311.80 452.74,313.50 463.05,315.40 473.36,316.90 483.67,318.20 493.98,319.30 504.29,320.10 514.60,320.80" fill="none" stroke="#4A7CBA" stroke-width="1.5" stroke-linejoin="round" stroke-linecap="butt" clip-path="url(#cBR)"/>
<polyline points="318.71,282.80 329.02,295.00 339.33,301.50 349.64,306.20 359.95,309.60 370.26,311.60 380.57,313.10 390.88,314.70 401.19,316.30 411.50,317.40 421.81,318.40 432.12,319.20 442.43,320.20 452.74,321.20 463.05,322.00 473.36,322.60 483.67,323.10 493.98,323.60 504.29,323.90 514.60,324.20" fill="none" stroke="#BF4C49" stroke-width="1.5" stroke-linejoin="round" stroke-linecap="butt" clip-path="url(#cBR)"/>
<polyline points="318.71,298.60 329.02,310.50 339.33,315.50 349.64,319.40 359.95,321.20 370.26,322.50 380.57,323.20 390.88,324.40 401.19,325.50 411.50,326.50 421.81,326.80 432.12,327.60 442.43,327.60 452.74,328.20 463.05,328.50 473.36,328.70 483.67,328.90 493.98,329.30 504.29,329.70 514.60,330.00" fill="none" stroke="#97B955" stroke-width="1.5" stroke-linejoin="round" stroke-linecap="butt" clip-path="url(#cBR)"/>
<polyline points="318.71,302.60 329.02,315.30 339.33,321.20 349.64,324.70 359.95,326.20 370.26,327.10 380.57,328.10 390.88,329.20 401.19,330.00 411.50,330.30 421.81,330.40 432.12,331.30 442.43,331.00 452.74,331.30 463.05,331.50 473.36,331.80 483.67,332.20 493.98,332.40 504.29,332.60 514.60,332.80" fill="none" stroke="#725B9E" stroke-width="1.5" stroke-linejoin="round" stroke-linecap="butt" clip-path="url(#cBR)"/>
<text x="116.00" y="9.20" font-size="10.0" textLength="34.60" lengthAdjust="spacingAndGlyphs" fill="#262626" >14 MeV</text>
<text x="392.10" y="8.30" font-size="10.0" textLength="35.00" lengthAdjust="spacingAndGlyphs" fill="#262626" >14 MeV</text>
<text x="112.10" y="196.90" font-size="11.4" textLength="32.90" lengthAdjust="spacingAndGlyphs" fill="#262626" >Fission</text>
<text x="382.90" y="197.10" font-size="11.4" textLength="32.70" lengthAdjust="spacingAndGlyphs" fill="#262626" >Fission</text>
<rect x="166" y="17" width="71" height="58.5" fill="#fff"/>
<text x="165.80" y="25.60" font-size="10.0" fill="#262626" textLength="65.70" lengthAdjust="spacingAndGlyphs">Voxel size nm<tspan font-size="6.20" dy="-3.80">3</tspan></text>
<line x1="168.0" x2="179.2" y1="35.10" y2="35.10" stroke="#4A7CBA" stroke-width="1.1"/>
<text x="180.80" y="38.34" font-size="9.4" textLength="38.40" lengthAdjust="spacingAndGlyphs" fill="#262626" >10x10x10</text>
<line x1="168.0" x2="179.2" y1="46.70" y2="46.70" stroke="#BF4C49" stroke-width="1.1"/>
<text x="180.80" y="49.94" font-size="9.4" textLength="38.40" lengthAdjust="spacingAndGlyphs" fill="#262626" >50x50x10</text>
<line x1="168.0" x2="179.2" y1="58.30" y2="58.30" stroke="#97B955" stroke-width="1.1"/>
<text x="180.80" y="61.54" font-size="9.4" textLength="38.40" lengthAdjust="spacingAndGlyphs" fill="#262626" >50x50x50</text>
<line x1="168.0" x2="179.2" y1="69.90" y2="69.90" stroke="#725B9E" stroke-width="1.1"/>
<text x="180.80" y="73.14" font-size="9.4" textLength="54.50" lengthAdjust="spacingAndGlyphs" fill="#262626" >100x100x100</text>
<rect x="434" y="19" width="78.5" height="16" fill="#fff"/>
<rect x="442.5" y="35" width="70.0" height="52.5" fill="#fff"/>
<text x="434.40" y="30.20" font-size="10.3" fill="#262626" textLength="66.20" lengthAdjust="spacingAndGlyphs">Voxel size nm<tspan font-size="6.39" dy="-3.91">3</tspan></text>
<line x1="443.1" x2="454.6" y1="41.20" y2="41.20" stroke="#4A7CBA" stroke-width="1.1"/>
<text x="455.80" y="44.65" font-size="10.0" textLength="39.00" lengthAdjust="spacingAndGlyphs" fill="#262626" >10x10x10</text>
<line x1="443.1" x2="454.6" y1="54.70" y2="54.70" stroke="#BF4C49" stroke-width="1.1"/>
<text x="455.80" y="58.15" font-size="10.0" textLength="39.00" lengthAdjust="spacingAndGlyphs" fill="#262626" >50x50x10</text>
<line x1="443.1" x2="454.6" y1="68.20" y2="68.20" stroke="#97B955" stroke-width="1.1"/>
<text x="455.80" y="71.65" font-size="10.0" textLength="39.00" lengthAdjust="spacingAndGlyphs" fill="#262626" >50x50x50</text>
<line x1="443.1" x2="454.6" y1="81.60" y2="81.60" stroke="#725B9E" stroke-width="1.1"/>
<text x="455.80" y="85.05" font-size="10.0" textLength="54.90" lengthAdjust="spacingAndGlyphs" fill="#262626" >100x100x100</text>
<rect x="167" y="202" width="76.5" height="66" fill="#fff"/>
<text x="169.70" y="213.80" font-size="10.3" fill="#262626" textLength="65.90" lengthAdjust="spacingAndGlyphs">Voxel size nm<tspan font-size="6.39" dy="-3.91">3</tspan></text>
<line x1="167.5" x2="179.3" y1="223.90" y2="223.90" stroke="#4A7CBA" stroke-width="1.1"/>
<text x="180.00" y="227.25" font-size="9.7" textLength="38.40" lengthAdjust="spacingAndGlyphs" fill="#262626" >10x10x10</text>
<line x1="167.5" x2="179.3" y1="236.40" y2="236.40" stroke="#BF4C49" stroke-width="1.1"/>
<text x="180.00" y="239.75" font-size="9.7" textLength="38.40" lengthAdjust="spacingAndGlyphs" fill="#262626" >50x50x10</text>
<line x1="167.5" x2="179.3" y1="249.00" y2="249.00" stroke="#97B955" stroke-width="1.1"/>
<text x="180.00" y="252.35" font-size="9.7" textLength="38.40" lengthAdjust="spacingAndGlyphs" fill="#262626" >50x50x50</text>
<line x1="167.5" x2="179.3" y1="261.50" y2="261.50" stroke="#725B9E" stroke-width="1.1"/>
<text x="180.00" y="264.85" font-size="9.7" textLength="55.20" lengthAdjust="spacingAndGlyphs" fill="#262626" >100x100x100</text>
<rect x="431" y="203" width="74" height="66" fill="#fff"/>
<text x="432.50" y="215.20" font-size="10.3" fill="#262626" textLength="65.60" lengthAdjust="spacingAndGlyphs">Voxel size nm<tspan font-size="6.39" dy="-3.91">3</tspan></text>
<line x1="433.5" x2="444.8" y1="225.40" y2="225.40" stroke="#4A7CBA" stroke-width="1.1"/>
<text x="445.70" y="228.75" font-size="9.7" textLength="39.20" lengthAdjust="spacingAndGlyphs" fill="#262626" >10x10x10</text>
<line x1="433.5" x2="444.8" y1="237.70" y2="237.70" stroke="#BF4C49" stroke-width="1.1"/>
<text x="445.70" y="241.05" font-size="9.7" textLength="39.20" lengthAdjust="spacingAndGlyphs" fill="#262626" >50x50x10</text>
<line x1="433.5" x2="444.8" y1="249.90" y2="249.90" stroke="#97B955" stroke-width="1.1"/>
<text x="445.70" y="253.25" font-size="9.7" textLength="39.20" lengthAdjust="spacingAndGlyphs" fill="#262626" >50x50x50</text>
<line x1="433.5" x2="444.8" y1="262.50" y2="262.50" stroke="#725B9E" stroke-width="1.1"/>
<text x="445.70" y="265.85" font-size="9.7" textLength="55.60" lengthAdjust="spacingAndGlyphs" fill="#262626" >100x100x100</text>
<text x="14.80" y="16.35" font-size="9.0" textLength="24.90" lengthAdjust="spacingAndGlyphs" fill="#262626" >1.E-01</text>
<text x="14.80" y="51.15" font-size="9.0" textLength="24.90" lengthAdjust="spacingAndGlyphs" fill="#262626" >1.E-02</text>
<text x="14.80" y="85.95" font-size="9.0" textLength="24.90" lengthAdjust="spacingAndGlyphs" fill="#262626" >1.E-03</text>
<text x="14.80" y="120.75" font-size="9.0" textLength="24.90" lengthAdjust="spacingAndGlyphs" fill="#262626" >1.E-04</text>
<text x="14.80" y="155.55" font-size="9.0" textLength="24.90" lengthAdjust="spacingAndGlyphs" fill="#262626" >1.E-05</text>
<text x="17.30" y="203.62" font-size="9.2" textLength="25.30" lengthAdjust="spacingAndGlyphs" fill="#262626" >1.E-01</text>
<text x="17.30" y="239.09" font-size="9.2" textLength="25.30" lengthAdjust="spacingAndGlyphs" fill="#262626" >1.E-02</text>
<text x="17.30" y="274.57" font-size="9.2" textLength="25.30" lengthAdjust="spacingAndGlyphs" fill="#262626" >1.E-03</text>
<text x="17.30" y="310.05" font-size="9.2" textLength="25.30" lengthAdjust="spacingAndGlyphs" fill="#262626" >1.E-04</text>
<text x="17.30" y="345.52" font-size="9.2" textLength="25.30" lengthAdjust="spacingAndGlyphs" fill="#262626" >1.E-05</text>
<text x="290.95" y="16.42" font-size="9.2" textLength="12.55" lengthAdjust="spacingAndGlyphs" fill="#262626" >0.2</text>
<text x="285.92" y="51.09" font-size="9.2" textLength="17.58" lengthAdjust="spacingAndGlyphs" fill="#262626" >0.15</text>
<text x="290.95" y="85.77" font-size="9.2" textLength="12.55" lengthAdjust="spacingAndGlyphs" fill="#262626" >0.1</text>
<text x="285.92" y="120.45" font-size="9.2" textLength="17.58" lengthAdjust="spacingAndGlyphs" fill="#262626" >0.05</text>
<text x="298.47" y="155.12" font-size="9.2" textLength="5.03" lengthAdjust="spacingAndGlyphs" fill="#262626" >0</text>
<text x="281.12" y="203.72" font-size="9.2" textLength="17.58" lengthAdjust="spacingAndGlyphs" fill="#262626" >0.12</text>
<text x="286.15" y="226.60" font-size="9.2" textLength="12.55" lengthAdjust="spacingAndGlyphs" fill="#262626" >0.1</text>
<text x="281.12" y="249.49" font-size="9.2" textLength="17.58" lengthAdjust="spacingAndGlyphs" fill="#262626" >0.08</text>
<text x="281.12" y="272.37" font-size="9.2" textLength="17.58" lengthAdjust="spacingAndGlyphs" fill="#262626" >0.06</text>
<text x="281.12" y="295.25" font-size="9.2" textLength="17.58" lengthAdjust="spacingAndGlyphs" fill="#262626" >0.04</text>
<text x="281.12" y="318.14" font-size="9.2" textLength="17.58" lengthAdjust="spacingAndGlyphs" fill="#262626" >0.02</text>
<text x="293.67" y="341.02" font-size="9.2" textLength="5.03" lengthAdjust="spacingAndGlyphs" fill="#262626" >0</text>
<text x="47.14" y="168.55" font-size="9.0" textLength="4.92" lengthAdjust="spacingAndGlyphs" fill="#262626" >0</text>
<text x="81.34" y="168.55" font-size="9.0" textLength="14.75" lengthAdjust="spacingAndGlyphs" fill="#262626" >200</text>
<text x="120.46" y="168.55" font-size="9.0" textLength="14.75" lengthAdjust="spacingAndGlyphs" fill="#262626" >400</text>
<text x="159.58" y="168.55" font-size="9.0" textLength="14.75" lengthAdjust="spacingAndGlyphs" fill="#262626" >600</text>
<text x="198.70" y="168.55" font-size="9.0" textLength="14.75" lengthAdjust="spacingAndGlyphs" fill="#262626" >800</text>
<text x="235.36" y="168.55" font-size="9.0" textLength="19.67" lengthAdjust="spacingAndGlyphs" fill="#262626" >1000</text>
<text x="310.69" y="168.22" font-size="9.2" textLength="5.03" lengthAdjust="spacingAndGlyphs" fill="#262626" >0</text>
<text x="360.69" y="168.22" font-size="9.2" textLength="5.03" lengthAdjust="spacingAndGlyphs" fill="#262626" >5</text>
<text x="408.17" y="168.22" font-size="9.2" textLength="10.05" lengthAdjust="spacingAndGlyphs" fill="#262626" >10</text>
<text x="458.17" y="168.22" font-size="9.2" textLength="10.05" lengthAdjust="spacingAndGlyphs" fill="#262626" >15</text>
<text x="508.17" y="168.22" font-size="9.2" textLength="10.05" lengthAdjust="spacingAndGlyphs" fill="#262626" >20</text>
<text x="49.89" y="359.22" font-size="9.2" textLength="5.03" lengthAdjust="spacingAndGlyphs" fill="#262626" >0</text>
<text x="83.58" y="359.22" font-size="9.2" textLength="15.08" lengthAdjust="spacingAndGlyphs" fill="#262626" >200</text>
<text x="122.30" y="359.22" font-size="9.2" textLength="15.08" lengthAdjust="spacingAndGlyphs" fill="#262626" >400</text>
<text x="161.02" y="359.22" font-size="9.2" textLength="15.08" lengthAdjust="spacingAndGlyphs" fill="#262626" >600</text>
<text x="199.74" y="359.22" font-size="9.2" textLength="15.08" lengthAdjust="spacingAndGlyphs" fill="#262626" >800</text>
<text x="235.95" y="359.22" font-size="9.2" textLength="20.11" lengthAdjust="spacingAndGlyphs" fill="#262626" >1000</text>
<text x="305.89" y="354.72" font-size="9.2" textLength="5.03" lengthAdjust="spacingAndGlyphs" fill="#262626" >0</text>
<text x="357.44" y="354.72" font-size="9.2" textLength="5.03" lengthAdjust="spacingAndGlyphs" fill="#262626" >5</text>
<text x="406.47" y="354.72" font-size="9.2" textLength="10.05" lengthAdjust="spacingAndGlyphs" fill="#262626" >10</text>
<text x="458.02" y="354.72" font-size="9.2" textLength="10.05" lengthAdjust="spacingAndGlyphs" fill="#262626" >15</text>
<text x="509.57" y="354.72" font-size="9.2" textLength="10.05" lengthAdjust="spacingAndGlyphs" fill="#262626" >20</text>
<text x="98.00" y="180.60" font-size="9.0" textLength="100.30" lengthAdjust="spacingAndGlyphs" fill="#262626" >Nv Number of vacancies</text>
<text x="363.80" y="180.20" font-size="9.0" textLength="99.50" lengthAdjust="spacingAndGlyphs" fill="#262626" >Nv Number of vacancies</text>
<text x="99.50" y="368.70" font-size="9.2" fill="#262626" textLength="98.00" lengthAdjust="spacingAndGlyphs">N<tspan font-size="6.44" dy="1.84">V</tspan><tspan dy="-1.84"> Number of vacancies</tspan></text>
<text x="362.00" y="368.20" font-size="9.2" fill="#262626" textLength="102.30" lengthAdjust="spacingAndGlyphs">N<tspan font-size="6.44" dy="1.84">V</tspan><tspan dy="-1.84"> Number of vacancies</tspan></text>
<text transform="translate(4.50,83.30) rotate(-90)" x="-12.35" y="3.13" font-size="8.7" fill="#262626" textLength="24.70" lengthAdjust="spacingAndGlyphs"><tspan font-style="italic">f</tspan><tspan font-size="4.79" dy="1.04">d</tspan><tspan dy="-1.04">(</tspan><tspan font-style="italic">N</tspan><tspan font-size="4.79" dy="1.04" font-style="italic">v</tspan><tspan dy="-1.04">)</tspan></text>
<text transform="translate(277.70,83.20) rotate(-90)" x="-12.45" y="3.13" font-size="8.7" fill="#262626" textLength="24.90" lengthAdjust="spacingAndGlyphs"><tspan font-style="italic">f</tspan><tspan font-size="4.79" dy="1.04">d</tspan><tspan dy="-1.04">(</tspan><tspan font-style="italic">N</tspan><tspan font-size="4.79" dy="1.04" font-style="italic">v</tspan><tspan dy="-1.04">)</tspan></text>
<text transform="translate(7.00,269.80) rotate(-90)" x="-12.45" y="3.13" font-size="8.7" fill="#262626" textLength="24.90" lengthAdjust="spacingAndGlyphs"><tspan font-style="italic">f</tspan><tspan font-size="4.79" dy="1.04">n</tspan><tspan dy="-1.04">(</tspan><tspan font-style="italic">N</tspan><tspan font-size="4.79" dy="1.04" font-style="italic">v</tspan><tspan dy="-1.04">)</tspan></text>
<text transform="translate(270.30,271.00) rotate(-90)" x="-12.50" y="3.13" font-size="8.7" fill="#262626" textLength="25.00" lengthAdjust="spacingAndGlyphs"><tspan font-style="italic">f</tspan><tspan font-size="4.79" dy="1.04">d</tspan><tspan dy="-1.04">(</tspan><tspan font-style="italic">N</tspan><tspan font-size="4.79" dy="1.04" font-style="italic">v</tspan><tspan dy="-1.04">)</tspan></text>
</svg>
</body></html>
